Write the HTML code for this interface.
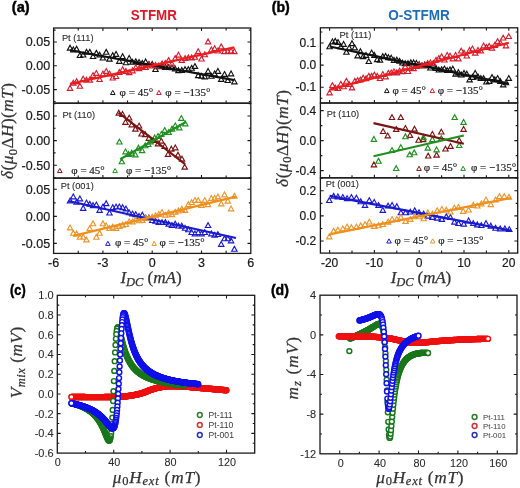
<!DOCTYPE html>
<html><head><meta charset="utf-8"><title>Figure</title>
<style>html,body{margin:0;padding:0;background:#fff;}svg{display:block;will-change:transform;}</style></head>
<body><svg width="520" height="488" viewBox="0 0 520 488">
<defs><clipPath id="ca1"><rect x="53.6" y="28" width="197.2" height="75.2"/></clipPath><clipPath id="ca2"><rect x="53.6" y="103.2" width="197.2" height="74.9"/></clipPath><clipPath id="ca3"><rect x="53.6" y="178.1" width="197.2" height="75.3"/></clipPath><clipPath id="cb1"><rect x="320.4" y="27.8" width="197.3" height="75.2"/></clipPath><clipPath id="cb2"><rect x="320.4" y="103" width="197.3" height="74.8"/></clipPath><clipPath id="cb3"><rect x="320.4" y="177.8" width="197.3" height="75.3"/></clipPath></defs>
<rect width="520" height="488" fill="#fff"/>
<rect x="53.6" y="28" width="197.2" height="75.2" fill="none" stroke="#1a1a1a" stroke-width="1.3"/>
<path d="M53.6 42h3.3M250.8 42h-3.3M53.6 65.8h3.3M250.8 65.8h-3.3M53.6 89.6h3.3M250.8 89.6h-3.3" stroke="#1a1a1a" stroke-width="1.1" fill="none"/>
<path d="M53.6 101.5h2M250.8 101.5h-2M53.6 77.7h2M250.8 77.7h-2M53.6 53.9h2M250.8 53.9h-2M53.6 30.1h2M250.8 30.1h-2" stroke="#1a1a1a" stroke-width="1.1" fill="none"/>
<path d="M102.9 103.2v-3M102.9 28v3M152.2 103.2v-3M152.2 28v3M201.5 103.2v-3M201.5 28v3" stroke="#1a1a1a" stroke-width="1.1" fill="none"/>
<path d="M78.25 103.2v-2.6M78.25 28v2.6M127.55 103.2v-2.6M127.55 28v2.6M176.85 103.2v-2.6M176.85 28v2.6M226.15 103.2v-2.6M226.15 28v2.6" stroke="#1a1a1a" stroke-width="1.1" fill="none"/>
<text x="50.1" y="46.46" font-family='"Liberation Sans", sans-serif' font-size="12.5" font-weight="normal" font-style="normal" fill="#1a1a1a" text-anchor="end" stroke="#1a1a1a" stroke-width="0.2">0.05</text>
<text x="50.1" y="70.26" font-family='"Liberation Sans", sans-serif' font-size="12.5" font-weight="normal" font-style="normal" fill="#1a1a1a" text-anchor="end" stroke="#1a1a1a" stroke-width="0.2">0.00</text>
<text x="50.1" y="94.06" font-family='"Liberation Sans", sans-serif' font-size="12.5" font-weight="normal" font-style="normal" fill="#1a1a1a" text-anchor="end" stroke="#1a1a1a" stroke-width="0.2">-0.05</text>
<rect x="53.6" y="103.2" width="197.2" height="74.9" fill="none" stroke="#1a1a1a" stroke-width="1.3"/>
<path d="M53.6 116h3.3M250.8 116h-3.3M53.6 140.6h3.3M250.8 140.6h-3.3M53.6 165.2h3.3M250.8 165.2h-3.3" stroke="#1a1a1a" stroke-width="1.1" fill="none"/>
<path d="M53.6 177.5h2M250.8 177.5h-2M53.6 152.9h2M250.8 152.9h-2M53.6 128.3h2M250.8 128.3h-2M53.6 103.7h2M250.8 103.7h-2" stroke="#1a1a1a" stroke-width="1.1" fill="none"/>
<path d="M102.9 178.1v-3M152.2 178.1v-3M201.5 178.1v-3" stroke="#1a1a1a" stroke-width="1.1" fill="none"/>
<path d="M78.25 178.1v-2.6M127.55 178.1v-2.6M176.85 178.1v-2.6M226.15 178.1v-2.6" stroke="#1a1a1a" stroke-width="1.1" fill="none"/>
<text x="50.1" y="120.46" font-family='"Liberation Sans", sans-serif' font-size="12.5" font-weight="normal" font-style="normal" fill="#1a1a1a" text-anchor="end" stroke="#1a1a1a" stroke-width="0.2">0.50</text>
<text x="50.1" y="145.06" font-family='"Liberation Sans", sans-serif' font-size="12.5" font-weight="normal" font-style="normal" fill="#1a1a1a" text-anchor="end" stroke="#1a1a1a" stroke-width="0.2">0.00</text>
<text x="50.1" y="169.66" font-family='"Liberation Sans", sans-serif' font-size="12.5" font-weight="normal" font-style="normal" fill="#1a1a1a" text-anchor="end" stroke="#1a1a1a" stroke-width="0.2">-0.50</text>
<rect x="53.6" y="178.1" width="197.2" height="75.3" fill="none" stroke="#1a1a1a" stroke-width="1.3"/>
<path d="M53.6 189.3h3.3M250.8 189.3h-3.3M53.6 216.35h3.3M250.8 216.35h-3.3M53.6 243.4h3.3M250.8 243.4h-3.3" stroke="#1a1a1a" stroke-width="1.1" fill="none"/>
<path d="M53.6 229.88h2M250.8 229.88h-2M53.6 202.83h2M250.8 202.83h-2" stroke="#1a1a1a" stroke-width="1.1" fill="none"/>
<path d="M102.9 253.4v-3M152.2 253.4v-3M201.5 253.4v-3" stroke="#1a1a1a" stroke-width="1.1" fill="none"/>
<path d="M78.25 253.4v-2.6M127.55 253.4v-2.6M176.85 253.4v-2.6M226.15 253.4v-2.6" stroke="#1a1a1a" stroke-width="1.1" fill="none"/>
<text x="50.1" y="193.76" font-family='"Liberation Sans", sans-serif' font-size="12.5" font-weight="normal" font-style="normal" fill="#1a1a1a" text-anchor="end" stroke="#1a1a1a" stroke-width="0.2">0.05</text>
<text x="50.1" y="220.81" font-family='"Liberation Sans", sans-serif' font-size="12.5" font-weight="normal" font-style="normal" fill="#1a1a1a" text-anchor="end" stroke="#1a1a1a" stroke-width="0.2">0.00</text>
<text x="50.1" y="247.86" font-family='"Liberation Sans", sans-serif' font-size="12.5" font-weight="normal" font-style="normal" fill="#1a1a1a" text-anchor="end" stroke="#1a1a1a" stroke-width="0.2">-0.05</text>
<text x="53.6" y="267.2" font-family='"Liberation Sans", sans-serif' font-size="12.5" font-weight="normal" font-style="normal" fill="#1a1a1a" text-anchor="middle" stroke="#1a1a1a" stroke-width="0.2">-6</text>
<text x="102.9" y="267.2" font-family='"Liberation Sans", sans-serif' font-size="12.5" font-weight="normal" font-style="normal" fill="#1a1a1a" text-anchor="middle" stroke="#1a1a1a" stroke-width="0.2">-3</text>
<text x="152.2" y="267.2" font-family='"Liberation Sans", sans-serif' font-size="12.5" font-weight="normal" font-style="normal" fill="#1a1a1a" text-anchor="middle" stroke="#1a1a1a" stroke-width="0.2">0</text>
<text x="201.5" y="267.2" font-family='"Liberation Sans", sans-serif' font-size="12.5" font-weight="normal" font-style="normal" fill="#1a1a1a" text-anchor="middle" stroke="#1a1a1a" stroke-width="0.2">3</text>
<text x="250.8" y="267.2" font-family='"Liberation Sans", sans-serif' font-size="12.5" font-weight="normal" font-style="normal" fill="#1a1a1a" text-anchor="middle" stroke="#1a1a1a" stroke-width="0.2">6</text>
<rect x="320.4" y="27.8" width="197.3" height="75.2" fill="none" stroke="#1a1a1a" stroke-width="1.3"/>
<path d="M320.4 43h3.3M517.7 43h-3.3M320.4 65.1h3.3M517.7 65.1h-3.3M320.4 87.2h3.3M517.7 87.2h-3.3" stroke="#1a1a1a" stroke-width="1.1" fill="none"/>
<path d="M320.4 98.25h2M517.7 98.25h-2M320.4 76.15h2M517.7 76.15h-2M320.4 54.05h2M517.7 54.05h-2M320.4 31.95h2M517.7 31.95h-2" stroke="#1a1a1a" stroke-width="1.1" fill="none"/>
<path d="M329.6 103v-3M329.6 27.8v3M374.4 103v-3M374.4 27.8v3M419.2 103v-3M419.2 27.8v3M464 103v-3M464 27.8v3M508.8 103v-3M508.8 27.8v3" stroke="#1a1a1a" stroke-width="1.1" fill="none"/>
<path d="M352 103v-2.6M352 27.8v2.6M396.8 103v-2.6M396.8 27.8v2.6M441.6 103v-2.6M441.6 27.8v2.6M486.4 103v-2.6M486.4 27.8v2.6" stroke="#1a1a1a" stroke-width="1.1" fill="none"/>
<text x="316.2" y="47.28" font-family='"Liberation Sans", sans-serif' font-size="12" font-weight="normal" font-style="normal" fill="#1a1a1a" text-anchor="end" stroke="#1a1a1a" stroke-width="0.2">0.1</text>
<text x="316.2" y="69.38" font-family='"Liberation Sans", sans-serif' font-size="12" font-weight="normal" font-style="normal" fill="#1a1a1a" text-anchor="end" stroke="#1a1a1a" stroke-width="0.2">0.0</text>
<text x="316.2" y="91.48" font-family='"Liberation Sans", sans-serif' font-size="12" font-weight="normal" font-style="normal" fill="#1a1a1a" text-anchor="end" stroke="#1a1a1a" stroke-width="0.2">-0.1</text>
<rect x="320.4" y="103" width="197.3" height="74.8" fill="none" stroke="#1a1a1a" stroke-width="1.3"/>
<path d="M320.4 110.6h3.3M517.7 110.6h-3.3M320.4 140.6h3.3M517.7 140.6h-3.3M320.4 170.6h3.3M517.7 170.6h-3.3" stroke="#1a1a1a" stroke-width="1.1" fill="none"/>
<path d="M320.4 155.6h2M517.7 155.6h-2M320.4 125.6h2M517.7 125.6h-2" stroke="#1a1a1a" stroke-width="1.1" fill="none"/>
<path d="M329.6 177.8v-3M374.4 177.8v-3M419.2 177.8v-3M464 177.8v-3M508.8 177.8v-3" stroke="#1a1a1a" stroke-width="1.1" fill="none"/>
<path d="M352 177.8v-2.6M396.8 177.8v-2.6M441.6 177.8v-2.6M486.4 177.8v-2.6" stroke="#1a1a1a" stroke-width="1.1" fill="none"/>
<text x="316.2" y="114.88" font-family='"Liberation Sans", sans-serif' font-size="12" font-weight="normal" font-style="normal" fill="#1a1a1a" text-anchor="end" stroke="#1a1a1a" stroke-width="0.2">0.4</text>
<text x="316.2" y="144.88" font-family='"Liberation Sans", sans-serif' font-size="12" font-weight="normal" font-style="normal" fill="#1a1a1a" text-anchor="end" stroke="#1a1a1a" stroke-width="0.2">0.0</text>
<text x="316.2" y="174.88" font-family='"Liberation Sans", sans-serif' font-size="12" font-weight="normal" font-style="normal" fill="#1a1a1a" text-anchor="end" stroke="#1a1a1a" stroke-width="0.2">-0.4</text>
<rect x="320.4" y="177.8" width="197.3" height="75.3" fill="none" stroke="#1a1a1a" stroke-width="1.3"/>
<path d="M320.4 190.8h3.3M517.7 190.8h-3.3M320.4 215.9h3.3M517.7 215.9h-3.3M320.4 241h3.3M517.7 241h-3.3" stroke="#1a1a1a" stroke-width="1.1" fill="none"/>
<path d="M320.4 228.45h2M517.7 228.45h-2M320.4 203.35h2M517.7 203.35h-2M320.4 178.25h2M517.7 178.25h-2" stroke="#1a1a1a" stroke-width="1.1" fill="none"/>
<path d="M329.6 253.1v-3M374.4 253.1v-3M419.2 253.1v-3M464 253.1v-3M508.8 253.1v-3" stroke="#1a1a1a" stroke-width="1.1" fill="none"/>
<path d="M352 253.1v-2.6M396.8 253.1v-2.6M441.6 253.1v-2.6M486.4 253.1v-2.6" stroke="#1a1a1a" stroke-width="1.1" fill="none"/>
<text x="316.2" y="195.08" font-family='"Liberation Sans", sans-serif' font-size="12" font-weight="normal" font-style="normal" fill="#1a1a1a" text-anchor="end" stroke="#1a1a1a" stroke-width="0.2">0.2</text>
<text x="316.2" y="220.18" font-family='"Liberation Sans", sans-serif' font-size="12" font-weight="normal" font-style="normal" fill="#1a1a1a" text-anchor="end" stroke="#1a1a1a" stroke-width="0.2">0.0</text>
<text x="316.2" y="245.28" font-family='"Liberation Sans", sans-serif' font-size="12" font-weight="normal" font-style="normal" fill="#1a1a1a" text-anchor="end" stroke="#1a1a1a" stroke-width="0.2">-0.2</text>
<text x="329.6" y="266.5" font-family='"Liberation Sans", sans-serif' font-size="12" font-weight="normal" font-style="normal" fill="#1a1a1a" text-anchor="middle" stroke="#1a1a1a" stroke-width="0.2">-20</text>
<text x="374.4" y="266.5" font-family='"Liberation Sans", sans-serif' font-size="12" font-weight="normal" font-style="normal" fill="#1a1a1a" text-anchor="middle" stroke="#1a1a1a" stroke-width="0.2">-10</text>
<text x="419.2" y="266.5" font-family='"Liberation Sans", sans-serif' font-size="12" font-weight="normal" font-style="normal" fill="#1a1a1a" text-anchor="middle" stroke="#1a1a1a" stroke-width="0.2">0</text>
<text x="464" y="266.5" font-family='"Liberation Sans", sans-serif' font-size="12" font-weight="normal" font-style="normal" fill="#1a1a1a" text-anchor="middle" stroke="#1a1a1a" stroke-width="0.2">10</text>
<text x="508.8" y="266.5" font-family='"Liberation Sans", sans-serif' font-size="12" font-weight="normal" font-style="normal" fill="#1a1a1a" text-anchor="middle" stroke="#1a1a1a" stroke-width="0.2">20</text>
<path d="M70.03 45.27L72.71 50.1H67.36ZM73.32 46.97L76 51.8H70.64ZM76.61 46.27L79.28 51.1H73.93ZM79.89 52.67L82.57 57.5H77.22ZM83.18 52.17L85.86 57H80.5ZM86.47 49.37L89.14 54.2H83.79ZM89.75 49.37L92.43 54.2H87.08ZM93.04 53.67L95.72 58.5H90.36ZM96.33 50.37L99 55.2H93.65ZM99.61 52.17L102.29 57H96.94ZM102.9 55.17L105.58 60H100.22ZM106.19 49.37L108.86 54.2H103.51ZM109.47 56.27L112.15 61.1H106.8ZM112.76 52.67L115.44 57.5H110.08ZM116.05 51.47L118.72 56.3H113.37ZM119.33 58.47L122.01 63.3H116.66ZM122.62 53.77L125.3 58.6H119.94ZM125.91 59.93L128.58 64.76H123.23ZM129.19 55.47L131.87 60.3H126.52ZM132.48 59.34L135.16 64.17H129.8ZM135.77 58.85L138.44 63.68H133.09ZM139.05 59.57L141.73 64.4H136.38ZM142.34 60.43L145.02 65.26H139.66ZM145.63 59.04L148.3 63.87H142.95ZM148.91 61.6L151.59 66.43H146.24ZM152.2 61.5L154.88 66.33H149.52ZM155.49 66.7L158.16 71.53H152.81ZM158.77 63.89L161.45 68.72H156.1ZM162.06 63.85L164.74 68.68H159.38ZM165.35 64.53L168.02 69.36H162.67ZM168.63 64.7L171.31 69.53H165.96ZM171.92 64.87L174.6 69.7H169.24ZM175.21 66.19L177.88 71.02H172.53ZM178.49 67.75L181.17 72.58H175.82ZM181.78 67.55L184.46 72.38H179.1ZM185.07 66.67L187.74 71.5H182.39ZM188.35 66.67L191.03 71.5H185.68ZM191.64 65.37L194.32 70.2H188.96ZM194.93 63.57L197.6 68.4H192.25ZM198.21 72.77L200.89 77.6H195.54ZM201.5 73.37L204.18 78.2H198.82ZM204.79 73.97L207.46 78.8H202.11ZM208.07 68.47L210.75 73.3H205.4ZM211.36 73.37L214.04 78.2H208.68ZM214.65 70.97L217.32 75.8H211.97ZM217.93 68.47L220.61 73.3H215.26ZM221.22 76.47L223.9 81.3H218.54ZM224.51 71.57L227.18 76.4H221.83ZM227.79 77.67L230.47 82.5H225.12ZM231.08 70.97L233.76 75.8H228.4ZM234.37 78.97L237.04 83.8H231.69Z" fill="none" stroke="#111" stroke-width="1.15" stroke-linejoin="miter" clip-path="url(#ca1)"/>
<path d="M70.03 85.47L72.71 90.3H67.36ZM73.32 80.27L76 85.1H70.64ZM76.61 78.77L79.28 83.6H73.93ZM79.89 83.37L82.57 88.2H77.22ZM83.18 76.17L85.86 81H80.5ZM86.47 77.27L89.14 82.1H83.79ZM89.75 77.27L92.43 82.1H87.08ZM93.04 72.57L95.72 77.4H90.36ZM96.33 70.57L99 75.4H93.65ZM99.61 76.67L102.29 81.5H96.94ZM102.9 71.07L105.58 75.9H100.22ZM106.19 68.57L108.86 73.4H103.51ZM109.47 71.07L112.15 75.9H106.8ZM112.76 75.17L115.44 80H110.08ZM116.05 73.67L118.72 78.5H113.37ZM119.33 69.49L122.01 74.32H116.66ZM122.62 66.87L125.3 71.7H119.94ZM125.91 68.55L128.58 73.38H123.23ZM129.19 69.84L131.87 74.67H126.52ZM132.48 68.01L135.16 72.84H129.8ZM135.77 64.75L138.44 69.58H133.09ZM139.05 65.82L141.73 70.65H136.38ZM142.34 64.41L145.02 69.24H139.66ZM145.63 64.53L148.3 69.36H142.95ZM148.91 61.86L151.59 66.69H146.24ZM152.2 63.17L154.88 68H149.52ZM155.49 62.43L158.16 67.26H152.81ZM158.77 63.18L161.45 68.01H156.1ZM162.06 61.06L164.74 65.89H159.38ZM165.35 60.54L168.02 65.37H162.67ZM168.63 57.61L171.31 62.44H165.96ZM171.92 61L174.6 65.83H169.24ZM175.21 55.68L177.88 60.51H172.53ZM178.49 52.27L181.17 57.1H175.82ZM181.78 57.54L184.46 62.37H179.1ZM185.07 55.57L187.74 60.4H182.39ZM188.35 54.97L191.03 59.8H185.68ZM191.64 54.97L194.32 59.8H188.96ZM194.93 54.37L197.6 59.2H192.25ZM198.21 48.77L200.89 53.6H195.54ZM201.5 56.17L204.18 61H198.82ZM204.79 51.87L207.46 56.7H202.11ZM208.07 38.97L210.75 43.8H205.4ZM211.36 46.97L214.04 51.8H208.68ZM214.65 45.77L217.32 50.6H211.97ZM217.93 48.17L220.61 53H215.26ZM221.22 43.87L223.9 48.7H218.54ZM224.51 48.77L227.18 53.6H221.83ZM227.79 48.77L230.47 53.6H225.12ZM231.08 48.17L233.76 53H228.4ZM234.37 48.77L237.04 53.6H231.69Z" fill="none" stroke="#cc2030" stroke-width="1.15" stroke-linejoin="miter" clip-path="url(#ca1)"/>
<line x1="70.03" y1="50.28" x2="234.37" y2="80.08" stroke="#111" stroke-width="2.2" clip-path="url(#ca1)"/>
<line x1="70.03" y1="83.89" x2="234.37" y2="47.38" stroke="#ee1c1c" stroke-width="2.2" clip-path="url(#ca1)"/>
<path d="M118.8 110.27L121.48 115.1H116.12ZM122.5 111.47L125.18 116.3H119.82ZM125.5 119.47L128.18 124.3H122.82ZM129.2 115.17L131.88 120H126.52ZM131.7 121.97L134.38 126.8H129.02ZM135.4 126.27L138.08 131.1H132.72ZM139.1 123.17L141.78 128H136.42ZM141.5 131.17L144.18 136H138.82ZM145.2 131.77L147.88 136.6H142.52ZM148.9 135.47L151.58 140.3H146.22ZM153.3 137.57L155.98 142.4H150.62ZM158 140.97L160.68 145.8H155.32ZM161.3 138.27L163.98 143.1H158.62ZM164.7 143.57L167.38 148.4H162.02ZM168 151.57L170.68 156.4H165.32ZM171.3 146.27L173.98 151.1H168.62ZM175.3 144.97L177.98 149.8H172.62ZM178 152.27L180.68 157.1H175.32ZM182 156.27L184.68 161.1H179.32ZM184.7 164.27L187.38 169.1H182.02Z" fill="none" stroke="#7a1414" stroke-width="1.15" stroke-linejoin="miter" clip-path="url(#ca2)"/>
<path d="M119.4 139.17L122.08 144H116.72ZM121.8 158.87L124.48 163.7H119.12ZM125.5 148.97L128.18 153.8H122.82ZM128.6 151.47L131.28 156.3H125.92ZM131.7 150.27L134.38 155.1H129.02ZM135.4 152.07L138.08 156.9H132.72ZM138.4 145.27L141.08 150.1H135.72ZM142.1 147.77L144.78 152.6H139.42ZM145.2 142.87L147.88 147.7H142.52ZM148.3 141.67L150.98 146.5H145.62ZM150.7 138.97L153.38 143.8H148.02ZM154.7 134.97L157.38 139.8H152.02ZM158 133.57L160.68 138.4H155.32ZM161.3 131.57L163.98 136.4H158.62ZM164.7 127.57L167.38 132.4H162.02ZM168.7 129.57L171.38 134.4H166.02ZM172 126.27L174.68 131.1H169.32ZM175.3 122.97L177.98 127.8H172.62ZM179.3 124.97L181.98 129.8H176.62ZM181.3 115.57L183.98 120.4H178.62ZM185.3 120.97L187.98 125.8H182.62Z" fill="none" stroke="#1f8f1f" stroke-width="1.15" stroke-linejoin="miter" clip-path="url(#ca2)"/>
<line x1="118.51" y1="112.56" x2="185.07" y2="164.22" stroke="#7a1414" stroke-width="2.2" clip-path="url(#ca2)"/>
<line x1="120.16" y1="159.2" x2="185.89" y2="122" stroke="#1f8f1f" stroke-width="2.2" clip-path="url(#ca2)"/>
<path d="M70.03 198.07L72.71 202.9H67.36ZM73.32 193.97L76 198.8H70.64ZM76.61 199.37L79.28 204.2H73.93ZM79.89 195.97L82.57 200.8H77.22ZM83.18 205.47L85.86 210.3H80.5ZM86.47 200.07L89.14 204.9H83.79ZM89.75 201.37L92.43 206.2H87.08ZM93.04 202.77L95.72 207.6H90.36ZM96.33 202.07L99 206.9H93.65ZM99.61 207.47L102.29 212.3H96.94ZM102.9 204.07L105.58 208.9H100.22ZM106.19 200.77L108.86 205.6H103.51ZM109.47 210.17L112.15 215H106.8ZM112.76 204.77L115.44 209.6H110.08ZM116.05 204.07L118.72 208.9H113.37ZM119.33 204.07L122.01 208.9H116.66ZM122.62 204.77L125.3 209.6H119.94ZM125.91 206.07L128.58 210.9H123.23ZM129.19 209.94L131.87 214.77H126.52ZM132.48 211.07L135.16 215.9H129.8ZM135.77 211.77L138.44 216.6H133.09ZM139.05 213.5L141.73 218.33H136.38ZM142.34 212.27L145.02 217.1H139.66ZM145.63 215.12L148.3 219.95H142.95ZM148.91 215.07L151.59 219.9H146.24ZM152.2 217.65L154.88 222.48H149.52ZM155.49 218.44L158.16 223.27H152.81ZM158.77 219.6L161.45 224.43H156.1ZM162.06 219.7L164.74 224.53H159.38ZM165.35 219.61L168.02 224.44H162.67ZM168.63 221.25L171.31 226.08H165.96ZM171.92 222.62L174.6 227.45H169.24ZM175.21 221.18L177.88 226.01H172.53ZM178.49 223.17L181.17 228H175.82ZM181.78 223.25L184.46 228.08H179.1ZM185.07 225.45L187.74 230.28H182.39ZM188.35 226.87L191.03 231.7H185.68ZM191.64 229.67L194.32 234.5H188.96ZM194.93 230.97L197.6 235.8H192.25ZM198.21 229.67L200.89 234.5H195.54ZM201.5 230.97L204.18 235.8H198.82ZM204.79 229.67L207.46 234.5H202.11ZM208.07 222.67L210.75 227.5H205.4ZM211.36 230.97L214.04 235.8H208.68ZM214.65 232.37L217.32 237.2H211.97ZM217.93 231.67L220.61 236.5H215.26ZM221.22 241.47L223.9 246.3H218.54ZM224.51 235.87L227.18 240.7H221.83ZM227.79 235.87L230.47 240.7H225.12ZM231.08 237.97L233.76 242.8H228.4ZM234.37 246.37L237.04 251.2H231.69Z" fill="none" stroke="#1a1acc" stroke-width="1.15" stroke-linejoin="miter" clip-path="url(#ca3)"/>
<path d="M70.03 224.97L72.71 229.8H67.36ZM73.32 230.37L76 235.2H70.64ZM76.61 230.97L79.28 235.8H73.93ZM79.89 234.37L82.57 239.2H77.22ZM83.18 234.37L85.86 239.2H80.5ZM86.47 237.07L89.14 241.9H83.79ZM89.75 225.67L92.43 230.5H87.08ZM93.04 220.87L95.72 225.7H90.36ZM96.33 234.37L99 239.2H93.65ZM99.61 230.37L102.29 235.2H96.94ZM102.9 220.87L105.58 225.7H100.22ZM106.19 222.97L108.86 227.8H103.51ZM109.47 225.67L112.15 230.5H106.8ZM112.76 224.27L115.44 229.1H110.08ZM116.05 225.67L118.72 230.5H113.37ZM119.33 223.57L122.01 228.4H116.66ZM122.62 222.27L125.3 227.1H119.94ZM125.91 221.57L128.58 226.4H123.23ZM129.19 218.82L131.87 223.65H126.52ZM132.48 219.08L135.16 223.91H129.8ZM135.77 216.38L138.44 221.21H133.09ZM139.05 217.9L141.73 222.73H136.38ZM142.34 217.6L145.02 222.43H139.66ZM145.63 215.21L148.3 220.04H142.95ZM148.91 215.3L151.59 220.13H146.24ZM152.2 214.33L154.88 219.16H149.52ZM155.49 212.89L158.16 217.72H152.81ZM158.77 211.63L161.45 216.46H156.1ZM162.06 209.67L164.74 214.5H159.38ZM165.35 212.32L168.02 217.15H162.67ZM168.63 210.07L171.31 214.9H165.96ZM171.92 211.85L174.6 216.68H169.24ZM175.21 209.36L177.88 214.19H172.53ZM178.49 208.02L181.17 212.85H175.82ZM181.78 206.29L184.46 211.12H179.1ZM185.07 207.55L187.74 212.38H182.39ZM188.35 201.77L191.03 206.6H185.68ZM191.64 199.67L194.32 204.5H188.96ZM194.93 197.57L197.6 202.4H192.25ZM198.21 197.57L200.89 202.4H195.54ZM201.5 202.47L204.18 207.3H198.82ZM204.79 197.57L207.46 202.4H202.11ZM208.07 201.77L210.75 206.6H205.4ZM211.36 195.47L214.04 200.3H208.68ZM214.65 195.47L217.32 200.3H211.97ZM217.93 194.07L220.61 198.9H215.26ZM221.22 201.07L223.9 205.9H218.54ZM224.51 191.97L227.18 196.8H221.83ZM227.79 198.27L230.47 203.1H225.12ZM231.08 205.97L233.76 210.8H228.4ZM234.37 193.37L237.04 198.2H231.69Z" fill="none" stroke="#e8962e" stroke-width="1.15" stroke-linejoin="miter" clip-path="url(#ca3)"/>
<line x1="68.39" y1="200.99" x2="236.01" y2="237.99" stroke="#1a1acc" stroke-width="2.2" clip-path="url(#ca3)"/>
<line x1="73.32" y1="235.83" x2="236.01" y2="196.6" stroke="#f0901c" stroke-width="2.2" clip-path="url(#ca3)"/>
<path d="M329.6 43.87L332.28 48.7H326.92ZM332.4 38.97L335.08 43.8H329.72ZM335.2 38.37L337.88 43.2H332.52ZM338 39.57L340.68 44.4H335.32ZM340.8 43.87L343.48 48.7H338.12ZM343.6 41.47L346.28 46.3H340.92ZM346.4 49.37L349.08 54.2H343.72ZM349.2 45.07L351.88 49.9H346.52ZM352 40.77L354.68 45.6H349.32ZM354.8 45.07L357.48 49.9H352.12ZM357.6 53.07L360.28 57.9H354.92ZM360.4 48.77L363.08 53.6H357.72ZM363.2 53.77L365.88 58.6H360.52ZM366 52.47L368.68 57.3H363.32ZM368.8 58.67L371.48 63.5H366.12ZM371.6 50.07L374.28 54.9H368.92ZM374.4 52.47L377.08 57.3H371.72ZM377.2 56.77L379.88 61.6H374.52ZM380 57.37L382.68 62.2H377.32ZM382.8 53.77L385.48 58.6H380.12ZM385.6 53.55L388.28 58.38H382.92ZM388.4 54.74L391.08 59.57H385.72ZM391.2 55.24L393.88 60.07H388.52ZM394 57.5L396.68 62.33H391.32ZM396.8 57.27L399.48 62.1H394.12ZM399.6 58.45L402.28 63.28H396.92ZM402.4 60.19L405.08 65.02H399.72ZM405.2 60.8L407.88 65.63H402.52ZM408 60.77L410.68 65.6H405.32ZM410.8 59.88L413.48 64.71H408.12ZM413.6 59.98L416.28 64.81H410.92ZM416.4 60.47L419.08 65.3H413.72ZM419.2 61.81L421.88 66.64H416.52ZM422 62.87L424.68 67.7H419.32ZM424.8 61.98L427.48 66.81H422.12ZM427.6 62.31L430.28 67.14H424.92ZM430.4 65.2L433.08 70.03H427.72ZM433.2 62.34L435.88 67.17H430.52ZM436 65.6L438.68 70.43H433.32ZM438.8 67.15L441.48 71.98H436.12ZM441.6 66.87L444.28 71.7H438.92ZM444.4 66.07L447.08 70.9H441.72ZM447.2 67.67L449.88 72.5H444.52ZM450 67.04L452.68 71.87H447.32ZM452.8 66.17L455.48 71H450.12ZM455.6 71.27L458.28 76.1H452.92ZM458.4 69.77L461.08 74.6H455.72ZM461.2 71.97L463.88 76.8H458.52ZM464 70.54L466.68 75.37H461.32ZM466.8 71.27L469.48 76.1H464.12ZM469.6 76.97L472.28 81.8H466.92ZM472.4 74.56L475.08 79.39H469.72ZM475.2 70.47L477.88 75.3H472.52ZM478 74.07L480.68 78.9H475.32ZM480.8 75.57L483.48 80.4H478.12ZM483.6 75.66L486.28 80.49H480.92ZM486.4 79.17L489.08 84H483.72ZM489.2 78.47L491.88 83.3H486.52ZM492 74.64L494.68 79.47H489.32ZM494.8 76.97L497.48 81.8H492.12ZM497.6 75.57L500.28 80.4H494.92ZM500.4 78.71L503.08 83.54H497.72ZM503.2 82.07L505.88 86.9H500.52ZM506 79.87L508.68 84.7H503.32ZM508.8 75.57L511.48 80.4H506.12Z" fill="none" stroke="#111" stroke-width="1.15" stroke-linejoin="miter" clip-path="url(#cb1)"/>
<path d="M329.6 89.97L332.28 94.8H326.92ZM332.4 82.67L335.08 87.5H329.72ZM335.2 85.07L337.88 89.9H332.52ZM338 85.67L340.68 90.5H335.32ZM340.8 81.37L343.48 86.2H338.12ZM343.6 83.87L346.28 88.7H340.92ZM346.4 78.37L349.08 83.2H343.72ZM349.2 81.66L351.88 86.49H346.52ZM352 85.07L354.68 89.9H349.32ZM354.8 78.37L357.48 83.2H352.12ZM357.6 77.67L360.28 82.5H354.92ZM360.4 77.07L363.08 81.9H357.72ZM363.2 75.27L365.88 80.1H360.52ZM366 75.87L368.68 80.7H363.32ZM368.8 73.37L371.48 78.2H366.12ZM371.6 73.37L374.28 78.2H368.92ZM374.4 72.17L377.08 77H371.72ZM377.2 73.37L379.88 78.2H374.52ZM380 75.67L382.68 80.5H377.32ZM382.8 71.57L385.48 76.4H380.12ZM385.6 73.98L388.28 78.81H382.92ZM388.4 70.46L391.08 75.29H385.72ZM391.2 70.07L393.88 74.9H388.52ZM394 68.96L396.68 73.79H391.32ZM396.8 69.98L399.48 74.81H394.12ZM399.6 68.24L402.28 73.07H396.92ZM402.4 68.79L405.08 73.62H399.72ZM405.2 63.9L407.88 68.73H402.52ZM408 68.62L410.68 73.45H405.32ZM410.8 65.23L413.48 70.06H408.12ZM413.6 65.73L416.28 70.56H410.92ZM416.4 63.69L419.08 68.52H413.72ZM419.2 62.56L421.88 67.39H416.52ZM422 63.17L424.68 68H419.32ZM424.8 63.01L427.48 67.84H422.12ZM427.6 60.63L430.28 65.46H424.92ZM430.4 59.97L433.08 64.8H427.72ZM433.2 60.58L435.88 65.41H430.52ZM436 57.35L438.68 62.18H433.32ZM438.8 55.58L441.48 60.41H436.12ZM441.6 53.87L444.28 58.7H438.92ZM444.4 57.16L447.08 61.99H441.72ZM447.2 52.47L449.88 57.3H444.52ZM450 53.17L452.68 58H447.32ZM452.8 56.07L455.48 60.9H450.12ZM455.6 52.47L458.28 57.3H452.92ZM458.4 56.07L461.08 60.9H455.72ZM461.2 48.17L463.88 53H458.52ZM464 50.29L466.68 55.12H461.32ZM466.8 53.17L469.48 58H464.12ZM469.6 47.47L472.28 52.3H466.92ZM472.4 46.08L475.08 50.91H469.72ZM475.2 50.27L477.88 55.1H472.52ZM478 47.47L480.68 52.3H475.32ZM480.8 48.17L483.48 53H478.12ZM483.6 43.07L486.28 47.9H480.92ZM486.4 44.57L489.08 49.4H483.72ZM489.2 43.43L491.88 48.26H486.52ZM492 45.27L494.68 50.1H489.32ZM494.8 42.5L497.48 47.33H492.12ZM497.6 38.77L500.28 43.6H494.92ZM500.4 40.17L503.08 45H497.72ZM503.2 35.17L505.88 40H500.52ZM506 43.07L508.68 47.9H503.32ZM508.8 33.67L511.48 38.5H506.12Z" fill="none" stroke="#cc2030" stroke-width="1.15" stroke-linejoin="miter" clip-path="url(#cb1)"/>
<line x1="329.6" y1="46.54" x2="508.8" y2="83.88" stroke="#111" stroke-width="2.2" clip-path="url(#cb1)"/>
<line x1="329.6" y1="89.63" x2="508.8" y2="42.78" stroke="#ee1c1c" stroke-width="2.2" clip-path="url(#cb1)"/>
<path d="M392 114.67L394.68 119.5H389.32ZM400.8 114.67L403.48 119.5H398.12ZM383.1 128.67L385.78 133.5H380.42ZM387.7 133.07L390.38 137.9H385.02ZM396.2 126.57L398.88 131.4H393.52ZM405.4 125.57L408.08 130.4H402.72ZM410 132.57L412.68 137.4H407.32ZM414.5 126.27L417.18 131.1H411.82ZM373.9 161.97L376.58 166.8H371.22ZM418.6 137.37L421.28 142.2H415.92ZM423.2 136.77L425.88 141.6H420.52ZM432.4 131.47L435.08 136.3H429.72ZM441.3 129.17L443.98 134H438.62ZM428.2 153.17L430.88 158H425.52ZM436.6 152.27L439.28 157.1H433.92ZM445.5 146.17L448.18 151H442.82ZM450.5 143.57L453.18 148.4H447.82ZM463.6 126.47L466.28 131.3H460.92ZM459.2 137.77L461.88 142.6H456.52Z" fill="none" stroke="#7a1414" stroke-width="1.15" stroke-linejoin="miter" clip-path="url(#cb2)"/>
<path d="M373.9 136.47L376.58 141.3H371.22ZM378.5 158.37L381.18 163.2H375.82ZM392 147.57L394.68 152.4H389.32ZM400.8 144.67L403.48 149.5H398.12ZM405.4 133.87L408.08 138.7H402.72ZM396.2 165.67L398.88 170.5H393.52ZM409.7 151.87L412.38 156.7H407.02ZM414.2 149.87L416.88 154.7H411.52ZM454.7 114.67L457.38 119.5H452.02ZM463.6 119.47L466.28 124.3H460.92ZM432.4 136.77L435.08 141.6H429.72ZM441.3 135.67L443.98 140.5H438.62ZM427.8 145.27L430.48 150.1H425.12ZM436.6 146.97L439.28 151.8H433.92ZM459.2 142.67L461.88 147.5H456.52ZM423.5 134.77L426.18 139.6H420.82Z" fill="none" stroke="#1f8f1f" stroke-width="1.15" stroke-linejoin="miter" clip-path="url(#cb2)"/>
<line x1="373.5" y1="123.1" x2="463.8" y2="143.7" stroke="#7a1414" stroke-width="2.2" clip-path="url(#cb2)"/>
<line x1="373.5" y1="156.3" x2="463.8" y2="135.5" stroke="#1f8f1f" stroke-width="2.2" clip-path="url(#cb2)"/>
<path d="M329.3 197.67L331.98 202.5H326.62ZM333.6 193.37L336.28 198.2H330.92ZM337.9 193.97L340.58 198.8H335.22ZM342.8 194.57L345.48 199.4H340.12ZM347.1 195.77L349.78 200.6H344.42ZM351.4 194.57L354.08 199.4H348.72ZM356.4 195.17L359.08 200H353.72ZM360.7 198.87L363.38 203.7H358.02ZM365 202.57L367.68 207.4H362.32ZM369.3 197.67L371.98 202.5H366.62ZM374.2 199.47L376.88 204.3H371.52ZM378.5 202.57L381.18 207.4H375.82ZM382.8 207.47L385.48 212.3H380.12ZM388.1 203.17L390.78 208H385.42ZM392.1 202.47L394.78 207.3H389.42ZM396.8 203.77L399.48 208.6H394.12ZM400.9 209.87L403.58 214.7H398.22ZM405.6 209.87L408.28 214.7H402.92ZM410.3 209.17L412.98 214H407.62ZM414.7 207.87L417.38 212.7H412.02ZM419 209.87L421.68 214.7H416.32ZM423.7 211.17L426.38 216H421.02ZM427.8 213.27L430.48 218.1H425.12ZM432.5 214.57L435.18 219.4H429.82ZM437.2 215.27L439.88 220.1H434.52ZM441.9 216.57L444.58 221.4H439.22ZM446.3 213.87L448.98 218.7H443.62ZM450.4 214.57L453.08 219.4H447.72ZM454.4 219.27L457.08 224.1H451.72ZM458.5 220.67L461.18 225.5H455.82ZM463.8 221.27L466.48 226.1H461.12ZM468.6 217.97L471.28 222.8H465.92ZM473.3 220.67L475.98 225.5H470.62ZM477.3 221.97L479.98 226.8H474.62ZM481.3 222.67L483.98 227.5H478.62ZM486 220.67L488.68 225.5H483.32ZM490.8 223.27L493.48 228.1H488.12ZM495.5 225.37L498.18 230.2H492.82ZM500.2 225.97L502.88 230.8H497.52ZM504.9 225.97L507.58 230.8H502.22ZM509.3 226.67L511.98 231.5H506.62Z" fill="none" stroke="#1a1acc" stroke-width="1.15" stroke-linejoin="miter" clip-path="url(#cb3)"/>
<path d="M329.3 233.97L331.98 238.8H326.62ZM333.6 228.37L336.28 233.2H330.92ZM337.9 227.17L340.58 232H335.22ZM342.8 225.97L345.48 230.8H340.12ZM347.1 224.07L349.78 228.9H344.42ZM351.4 224.67L354.08 229.5H348.72ZM356.4 224.07L359.08 228.9H353.72ZM360.7 222.87L363.38 227.7H358.02ZM365 221.67L367.68 226.5H362.32ZM369.3 219.17L371.98 224H366.62ZM374.2 223.47L376.88 228.3H371.52ZM378.5 222.87L381.18 227.7H375.82ZM382.8 221.67L385.48 226.5H380.12ZM388.1 219.27L390.78 224.1H385.42ZM392.1 216.57L394.78 221.4H389.42ZM396.8 216.57L399.48 221.4H394.12ZM400.9 214.57L403.58 219.4H398.22ZM405.6 218.57L408.28 223.4H402.92ZM410.3 216.57L412.98 221.4H407.62ZM414.7 213.87L417.38 218.7H412.02ZM419 213.87L421.68 218.7H416.32ZM423.7 215.87L426.38 220.7H421.02ZM427.8 209.87L430.48 214.7H425.12ZM432.5 211.17L435.18 216H429.82ZM437.2 207.87L439.88 212.7H434.52ZM441.9 206.47L444.58 211.3H439.22ZM446.3 207.17L448.98 212H443.62ZM450.4 209.17L453.08 214H447.72ZM454.4 205.17L457.08 210H451.72ZM458.5 204.47L461.18 209.3H455.82ZM463.2 208.47L465.88 213.3H460.52ZM468.6 207.17L471.28 212H465.92ZM473.3 202.47L475.98 207.3H470.62ZM477.3 203.17L479.98 208H474.62ZM481.3 201.07L483.98 205.9H478.62ZM486 197.07L488.68 201.9H483.32ZM490.8 201.77L493.48 206.6H488.12ZM495.5 197.07L498.18 201.9H492.82ZM499.5 193.67L502.18 198.5H496.82ZM504.2 193.67L506.88 198.5H501.52ZM508.9 194.37L511.58 199.2H506.22Z" fill="none" stroke="#e8962e" stroke-width="1.15" stroke-linejoin="miter" clip-path="url(#cb3)"/>
<line x1="329.6" y1="195.95" x2="511.04" y2="230.58" stroke="#1a1acc" stroke-width="2.2" clip-path="url(#cb3)"/>
<line x1="329.6" y1="234.35" x2="511.04" y2="197.95" stroke="#f0901c" stroke-width="2.2" clip-path="url(#cb3)"/>
<text x="61.9" y="40.6" font-family='"Liberation Sans", sans-serif' font-size="9.3" font-weight="normal" font-style="normal" fill="#2a2a2a" text-anchor="start" stroke="#2a2a2a" stroke-width="0.1">Pt (111)</text>
<text x="62.6" y="118.3" font-family='"Liberation Sans", sans-serif' font-size="9.3" font-weight="normal" font-style="normal" fill="#2a2a2a" text-anchor="start" stroke="#2a2a2a" stroke-width="0.1">Pt (110)</text>
<text x="60.7" y="189.4" font-family='"Liberation Sans", sans-serif' font-size="9.3" font-weight="normal" font-style="normal" fill="#2a2a2a" text-anchor="start" stroke="#2a2a2a" stroke-width="0.1">Pt (001)</text>
<text x="339.6" y="37.8" font-family='"Liberation Sans", sans-serif' font-size="9.3" font-weight="normal" font-style="normal" fill="#2a2a2a" text-anchor="start" stroke="#2a2a2a" stroke-width="0.1">Pt (111)</text>
<text x="326.8" y="117.3" font-family='"Liberation Sans", sans-serif' font-size="9.3" font-weight="normal" font-style="normal" fill="#2a2a2a" text-anchor="start" stroke="#2a2a2a" stroke-width="0.1">Pt (110)</text>
<text x="325.8" y="186.7" font-family='"Liberation Sans", sans-serif' font-size="9.3" font-weight="normal" font-style="normal" fill="#2a2a2a" text-anchor="start" stroke="#2a2a2a" stroke-width="0.1">Pt (001)</text>
<path d="M112.8 90.36L115.09 94.5H110.5Z" fill="none" stroke="#111" stroke-width="1.0" stroke-linejoin="miter"/>
<text x="119.6" y="95.5" font-family='"Liberation Serif", serif' font-size="11" font-weight="normal" font-style="normal" fill="#222" text-anchor="start" stroke="#1a1a1a" stroke-width="0.2">φ = 45°</text>
<path d="M158.9 90.36L161.19 94.5H156.61Z" fill="none" stroke="#cc2030" stroke-width="1.0" stroke-linejoin="miter"/>
<text x="165.3" y="95.5" font-family='"Liberation Serif", serif' font-size="11" font-weight="normal" font-style="normal" fill="#222" text-anchor="start" stroke="#1a1a1a" stroke-width="0.2">φ = −135°</text>
<path d="M59.8 168.46L62.09 172.6H57.5Z" fill="none" stroke="#7a1414" stroke-width="1.0" stroke-linejoin="miter"/>
<text x="71.3" y="173.6" font-family='"Liberation Serif", serif' font-size="11" font-weight="normal" font-style="normal" fill="#222" text-anchor="start" stroke="#1a1a1a" stroke-width="0.2">φ = 45°</text>
<path d="M115.1 168.46L117.39 172.6H112.8Z" fill="none" stroke="#1f8f1f" stroke-width="1.0" stroke-linejoin="miter"/>
<text x="126" y="173.6" font-family='"Liberation Serif", serif' font-size="11" font-weight="normal" font-style="normal" fill="#222" text-anchor="start" stroke="#1a1a1a" stroke-width="0.2">φ = −135°</text>
<path d="M107.9 241.26L110.2 245.4H105.61Z" fill="none" stroke="#1a1acc" stroke-width="1.0" stroke-linejoin="miter"/>
<text x="115" y="246.4" font-family='"Liberation Serif", serif' font-size="11" font-weight="normal" font-style="normal" fill="#222" text-anchor="start" stroke="#1a1a1a" stroke-width="0.2">φ = 45°</text>
<path d="M154.2 241.26L156.49 245.4H151.91Z" fill="none" stroke="#e8962e" stroke-width="1.0" stroke-linejoin="miter"/>
<text x="159.5" y="246.4" font-family='"Liberation Serif", serif' font-size="11" font-weight="normal" font-style="normal" fill="#222" text-anchor="start" stroke="#1a1a1a" stroke-width="0.2">φ = −135°</text>
<path d="M386.8 88.46L389.1 92.6H384.5Z" fill="none" stroke="#111" stroke-width="1.0" stroke-linejoin="miter"/>
<text x="392.5" y="93.6" font-family='"Liberation Serif", serif' font-size="11" font-weight="normal" font-style="normal" fill="#222" text-anchor="start" stroke="#1a1a1a" stroke-width="0.2">φ = 45°</text>
<path d="M432.3 88.46L434.6 92.6H430Z" fill="none" stroke="#cc2030" stroke-width="1.0" stroke-linejoin="miter"/>
<text x="437.7" y="93.6" font-family='"Liberation Serif", serif' font-size="11" font-weight="normal" font-style="normal" fill="#222" text-anchor="start" stroke="#1a1a1a" stroke-width="0.2">φ = −135°</text>
<path d="M419 166.26L421.3 170.4H416.7Z" fill="none" stroke="#7a1414" stroke-width="1.0" stroke-linejoin="miter"/>
<text x="423.8" y="171.4" font-family='"Liberation Serif", serif' font-size="11" font-weight="normal" font-style="normal" fill="#222" text-anchor="start" stroke="#1a1a1a" stroke-width="0.2">φ = 45°</text>
<path d="M463.1 166.26L465.4 170.4H460.81Z" fill="none" stroke="#1f8f1f" stroke-width="1.0" stroke-linejoin="miter"/>
<text x="470.9" y="171.4" font-family='"Liberation Serif", serif' font-size="11" font-weight="normal" font-style="normal" fill="#222" text-anchor="start" stroke="#1a1a1a" stroke-width="0.2">φ = −135°</text>
<path d="M389 238.86L391.3 243H386.7Z" fill="none" stroke="#1a1acc" stroke-width="1.0" stroke-linejoin="miter"/>
<text x="394.6" y="244" font-family='"Liberation Serif", serif' font-size="11" font-weight="normal" font-style="normal" fill="#222" text-anchor="start" stroke="#1a1a1a" stroke-width="0.2">φ = 45°</text>
<path d="M432.7 238.86L435 243H430.4Z" fill="none" stroke="#e8962e" stroke-width="1.0" stroke-linejoin="miter"/>
<text x="438.2" y="244" font-family='"Liberation Serif", serif' font-size="11" font-weight="normal" font-style="normal" fill="#222" text-anchor="start" stroke="#1a1a1a" stroke-width="0.2">φ = −135°</text>
<rect x="57.3" y="295.3" width="197.4" height="157.8" fill="none" stroke="#1a1a1a" stroke-width="1.3"/>
<path d="M113.7 453.1v-3.3M113.7 295.3v3.3M170.1 453.1v-3.3M170.1 295.3v3.3M226.5 453.1v-3.3M226.5 295.3v3.3" stroke="#1a1a1a" stroke-width="1.1" fill="none"/>
<path d="M85.5 453.1v-2M85.5 295.3v2M141.9 453.1v-2M141.9 295.3v2M198.3 453.1v-2M198.3 295.3v2" stroke="#1a1a1a" stroke-width="1.1" fill="none"/>
<path d="M57.3 433.38h3.3M254.7 433.38h-3.3M57.3 413.65h3.3M254.7 413.65h-3.3M57.3 393.93h3.3M254.7 393.93h-3.3M57.3 374.2h3.3M254.7 374.2h-3.3M57.3 354.48h3.3M254.7 354.48h-3.3M57.3 334.75h3.3M254.7 334.75h-3.3M57.3 315.02h3.3M254.7 315.02h-3.3" stroke="#1a1a1a" stroke-width="1.1" fill="none"/>
<path d="M57.3 443.24h2M254.7 443.24h-2M57.3 423.51h2M254.7 423.51h-2M57.3 403.79h2M254.7 403.79h-2M57.3 384.06h2M254.7 384.06h-2M57.3 364.34h2M254.7 364.34h-2M57.3 344.61h2M254.7 344.61h-2M57.3 324.89h2M254.7 324.89h-2M57.3 305.16h2M254.7 305.16h-2" stroke="#1a1a1a" stroke-width="1.1" fill="none"/>
<text x="53.6" y="299.23" font-family='"Liberation Sans", sans-serif' font-size="11" font-weight="normal" font-style="normal" fill="#2a2a2a" text-anchor="end" stroke="#2a2a2a" stroke-width="0.08">1.0</text>
<text x="53.6" y="318.95" font-family='"Liberation Sans", sans-serif' font-size="11" font-weight="normal" font-style="normal" fill="#2a2a2a" text-anchor="end" stroke="#2a2a2a" stroke-width="0.08">0.8</text>
<text x="53.6" y="338.68" font-family='"Liberation Sans", sans-serif' font-size="11" font-weight="normal" font-style="normal" fill="#2a2a2a" text-anchor="end" stroke="#2a2a2a" stroke-width="0.08">0.6</text>
<text x="53.6" y="358.4" font-family='"Liberation Sans", sans-serif' font-size="11" font-weight="normal" font-style="normal" fill="#2a2a2a" text-anchor="end" stroke="#2a2a2a" stroke-width="0.08">0.4</text>
<text x="53.6" y="378.13" font-family='"Liberation Sans", sans-serif' font-size="11" font-weight="normal" font-style="normal" fill="#2a2a2a" text-anchor="end" stroke="#2a2a2a" stroke-width="0.08">0.2</text>
<text x="53.6" y="397.85" font-family='"Liberation Sans", sans-serif' font-size="11" font-weight="normal" font-style="normal" fill="#2a2a2a" text-anchor="end" stroke="#2a2a2a" stroke-width="0.08">0.0</text>
<text x="53.6" y="417.58" font-family='"Liberation Sans", sans-serif' font-size="11" font-weight="normal" font-style="normal" fill="#2a2a2a" text-anchor="end" stroke="#2a2a2a" stroke-width="0.08">-0.2</text>
<text x="53.6" y="437.3" font-family='"Liberation Sans", sans-serif' font-size="11" font-weight="normal" font-style="normal" fill="#2a2a2a" text-anchor="end" stroke="#2a2a2a" stroke-width="0.08">-0.4</text>
<text x="53.6" y="457.03" font-family='"Liberation Sans", sans-serif' font-size="11" font-weight="normal" font-style="normal" fill="#2a2a2a" text-anchor="end" stroke="#2a2a2a" stroke-width="0.08">-0.6</text>
<text x="57.8" y="466.3" font-family='"Liberation Sans", sans-serif' font-size="10.8" font-weight="normal" font-style="normal" fill="#2a2a2a" text-anchor="middle" stroke="#2a2a2a" stroke-width="0.08">0</text>
<text x="114.2" y="466.3" font-family='"Liberation Sans", sans-serif' font-size="10.8" font-weight="normal" font-style="normal" fill="#2a2a2a" text-anchor="middle" stroke="#2a2a2a" stroke-width="0.08">40</text>
<text x="170.6" y="466.3" font-family='"Liberation Sans", sans-serif' font-size="10.8" font-weight="normal" font-style="normal" fill="#2a2a2a" text-anchor="middle" stroke="#2a2a2a" stroke-width="0.08">80</text>
<text x="227" y="466.3" font-family='"Liberation Sans", sans-serif' font-size="10.8" font-weight="normal" font-style="normal" fill="#2a2a2a" text-anchor="middle" stroke="#2a2a2a" stroke-width="0.08">120</text>
<g fill="#fff" stroke="#ee1111" stroke-width="1.45"><circle cx="226.5" cy="390.28" r="2.45"/><circle cx="226.15" cy="390.24" r="2.45"/><circle cx="225.79" cy="390.21" r="2.45"/><circle cx="225.44" cy="390.18" r="2.45"/><circle cx="225.09" cy="390.15" r="2.45"/><circle cx="224.74" cy="390.11" r="2.45"/><circle cx="224.38" cy="390.08" r="2.45"/><circle cx="224.03" cy="390.05" r="2.45"/><circle cx="223.68" cy="390.02" r="2.45"/><circle cx="223.33" cy="389.99" r="2.45"/><circle cx="222.97" cy="389.95" r="2.45"/><circle cx="222.62" cy="389.92" r="2.45"/><circle cx="222.27" cy="389.89" r="2.45"/><circle cx="221.92" cy="389.86" r="2.45"/><circle cx="221.56" cy="389.83" r="2.45"/><circle cx="221.21" cy="389.79" r="2.45"/><circle cx="220.86" cy="389.76" r="2.45"/><circle cx="220.51" cy="389.73" r="2.45"/><circle cx="220.15" cy="389.7" r="2.45"/><circle cx="219.8" cy="389.67" r="2.45"/><circle cx="219.45" cy="389.64" r="2.45"/><circle cx="219.1" cy="389.6" r="2.45"/><circle cx="218.74" cy="389.57" r="2.45"/><circle cx="218.39" cy="389.54" r="2.45"/><circle cx="218.04" cy="389.51" r="2.45"/><circle cx="217.69" cy="389.48" r="2.45"/><circle cx="217.33" cy="389.45" r="2.45"/><circle cx="216.98" cy="389.42" r="2.45"/><circle cx="216.63" cy="389.39" r="2.45"/><circle cx="216.28" cy="389.35" r="2.45"/><circle cx="215.92" cy="389.32" r="2.45"/><circle cx="215.57" cy="389.29" r="2.45"/><circle cx="215.22" cy="389.26" r="2.45"/><circle cx="214.87" cy="389.23" r="2.45"/><circle cx="214.51" cy="389.2" r="2.45"/><circle cx="214.16" cy="389.17" r="2.45"/><circle cx="213.81" cy="389.14" r="2.45"/><circle cx="213.46" cy="389.11" r="2.45"/><circle cx="213.1" cy="389.07" r="2.45"/><circle cx="212.75" cy="389.04" r="2.45"/><circle cx="212.4" cy="389.01" r="2.45"/><circle cx="212.05" cy="388.98" r="2.45"/><circle cx="211.69" cy="388.95" r="2.45"/><circle cx="211.34" cy="388.92" r="2.45"/><circle cx="210.99" cy="388.89" r="2.45"/><circle cx="210.64" cy="388.86" r="2.45"/><circle cx="210.28" cy="388.83" r="2.45"/><circle cx="209.93" cy="388.8" r="2.45"/><circle cx="209.58" cy="388.77" r="2.45"/><circle cx="209.23" cy="388.74" r="2.45"/><circle cx="208.87" cy="388.71" r="2.45"/><circle cx="208.52" cy="388.68" r="2.45"/><circle cx="208.17" cy="388.65" r="2.45"/><circle cx="207.82" cy="388.62" r="2.45"/><circle cx="207.46" cy="388.59" r="2.45"/><circle cx="207.11" cy="388.56" r="2.45"/><circle cx="206.76" cy="388.52" r="2.45"/><circle cx="206.41" cy="388.49" r="2.45"/><circle cx="206.05" cy="388.46" r="2.45"/><circle cx="205.7" cy="388.43" r="2.45"/><circle cx="205.35" cy="388.4" r="2.45"/><circle cx="205" cy="388.37" r="2.45"/><circle cx="204.64" cy="388.34" r="2.45"/><circle cx="204.29" cy="388.31" r="2.45"/><circle cx="203.94" cy="388.28" r="2.45"/><circle cx="203.59" cy="388.25" r="2.45"/><circle cx="203.23" cy="388.22" r="2.45"/><circle cx="202.88" cy="388.19" r="2.45"/><circle cx="202.53" cy="388.17" r="2.45"/><circle cx="202.18" cy="388.14" r="2.45"/><circle cx="201.82" cy="388.11" r="2.45"/><circle cx="201.47" cy="388.08" r="2.45"/><circle cx="201.12" cy="388.05" r="2.45"/><circle cx="200.77" cy="388.02" r="2.45"/><circle cx="200.41" cy="387.99" r="2.45"/><circle cx="200.06" cy="387.96" r="2.45"/><circle cx="199.71" cy="387.93" r="2.45"/><circle cx="199.36" cy="387.9" r="2.45"/><circle cx="199" cy="387.87" r="2.45"/><circle cx="198.65" cy="387.84" r="2.45"/><circle cx="198.3" cy="387.81" r="2.45"/><circle cx="197.95" cy="387.78" r="2.45"/><circle cx="197.59" cy="387.75" r="2.45"/><circle cx="197.24" cy="387.72" r="2.45"/><circle cx="196.89" cy="387.69" r="2.45"/><circle cx="196.54" cy="387.66" r="2.45"/><circle cx="196.19" cy="387.62" r="2.45"/><circle cx="195.83" cy="387.59" r="2.45"/><circle cx="195.48" cy="387.56" r="2.45"/><circle cx="195.13" cy="387.52" r="2.45"/><circle cx="194.77" cy="387.49" r="2.45"/><circle cx="194.42" cy="387.45" r="2.45"/><circle cx="194.07" cy="387.42" r="2.45"/><circle cx="193.72" cy="387.38" r="2.45"/><circle cx="193.37" cy="387.35" r="2.45"/><circle cx="193.01" cy="387.31" r="2.45"/><circle cx="192.66" cy="387.28" r="2.45"/><circle cx="192.31" cy="387.24" r="2.45"/><circle cx="191.95" cy="387.21" r="2.45"/><circle cx="191.6" cy="387.17" r="2.45"/><circle cx="191.25" cy="387.14" r="2.45"/><circle cx="190.9" cy="387.1" r="2.45"/><circle cx="190.55" cy="387.07" r="2.45"/><circle cx="190.19" cy="387.03" r="2.45"/><circle cx="189.84" cy="387" r="2.45"/><circle cx="189.49" cy="386.96" r="2.45"/><circle cx="189.13" cy="386.93" r="2.45"/><circle cx="188.78" cy="386.89" r="2.45"/><circle cx="188.43" cy="386.86" r="2.45"/><circle cx="188.08" cy="386.83" r="2.45"/><circle cx="187.72" cy="386.8" r="2.45"/><circle cx="187.37" cy="386.76" r="2.45"/><circle cx="187.02" cy="386.73" r="2.45"/><circle cx="186.67" cy="386.7" r="2.45"/><circle cx="186.31" cy="386.67" r="2.45"/><circle cx="185.96" cy="386.64" r="2.45"/><circle cx="185.61" cy="386.61" r="2.45"/><circle cx="185.26" cy="386.58" r="2.45"/><circle cx="184.9" cy="386.56" r="2.45"/><circle cx="184.55" cy="386.53" r="2.45"/><circle cx="184.2" cy="386.5" r="2.45"/><circle cx="183.85" cy="386.48" r="2.45"/><circle cx="183.5" cy="386.45" r="2.45"/><circle cx="183.14" cy="386.43" r="2.45"/><circle cx="182.79" cy="386.41" r="2.45"/><circle cx="182.44" cy="386.39" r="2.45"/><circle cx="182.08" cy="386.37" r="2.45"/><circle cx="181.73" cy="386.35" r="2.45"/><circle cx="181.38" cy="386.33" r="2.45"/><circle cx="181.03" cy="386.31" r="2.45"/><circle cx="180.67" cy="386.3" r="2.45"/><circle cx="180.32" cy="386.28" r="2.45"/><circle cx="179.97" cy="386.27" r="2.45"/><circle cx="179.62" cy="386.26" r="2.45"/><circle cx="179.26" cy="386.25" r="2.45"/><circle cx="178.91" cy="386.24" r="2.45"/><circle cx="178.56" cy="386.23" r="2.45"/><circle cx="178.21" cy="386.23" r="2.45"/><circle cx="177.85" cy="386.22" r="2.45"/><circle cx="177.5" cy="386.21" r="2.45"/><circle cx="177.15" cy="386.21" r="2.45"/><circle cx="176.8" cy="386.2" r="2.45"/><circle cx="176.44" cy="386.19" r="2.45"/><circle cx="176.09" cy="386.19" r="2.45"/><circle cx="175.74" cy="386.18" r="2.45"/><circle cx="175.39" cy="386.18" r="2.45"/><circle cx="175.03" cy="386.17" r="2.45"/><circle cx="174.68" cy="386.17" r="2.45"/><circle cx="174.33" cy="386.16" r="2.45"/><circle cx="173.98" cy="386.16" r="2.45"/><circle cx="173.62" cy="386.15" r="2.45"/><circle cx="173.27" cy="386.15" r="2.45"/><circle cx="172.92" cy="386.15" r="2.45"/><circle cx="172.57" cy="386.14" r="2.45"/><circle cx="172.21" cy="386.14" r="2.45"/><circle cx="171.86" cy="386.14" r="2.45"/><circle cx="171.51" cy="386.14" r="2.45"/><circle cx="171.16" cy="386.14" r="2.45"/><circle cx="170.81" cy="386.13" r="2.45"/><circle cx="170.45" cy="386.13" r="2.45"/><circle cx="170.1" cy="386.13" r="2.45"/><circle cx="169.75" cy="386.14" r="2.45"/><circle cx="169.39" cy="386.14" r="2.45"/><circle cx="169.04" cy="386.15" r="2.45"/><circle cx="168.69" cy="386.17" r="2.45"/><circle cx="168.34" cy="386.19" r="2.45"/><circle cx="167.98" cy="386.21" r="2.45"/><circle cx="167.63" cy="386.23" r="2.45"/><circle cx="167.28" cy="386.26" r="2.45"/><circle cx="166.93" cy="386.29" r="2.45"/><circle cx="166.57" cy="386.33" r="2.45"/><circle cx="166.22" cy="386.36" r="2.45"/><circle cx="165.87" cy="386.4" r="2.45"/><circle cx="165.52" cy="386.45" r="2.45"/><circle cx="165.16" cy="386.49" r="2.45"/><circle cx="164.81" cy="386.54" r="2.45"/><circle cx="164.46" cy="386.59" r="2.45"/><circle cx="164.11" cy="386.64" r="2.45"/><circle cx="163.75" cy="386.69" r="2.45"/><circle cx="163.4" cy="386.74" r="2.45"/><circle cx="163.05" cy="386.8" r="2.45"/><circle cx="162.7" cy="386.85" r="2.45"/><circle cx="162.34" cy="386.91" r="2.45"/><circle cx="161.99" cy="386.97" r="2.45"/><circle cx="161.64" cy="387.03" r="2.45"/><circle cx="161.29" cy="387.09" r="2.45"/><circle cx="160.94" cy="387.15" r="2.45"/><circle cx="160.58" cy="387.21" r="2.45"/><circle cx="160.23" cy="387.27" r="2.45"/><circle cx="159.88" cy="387.33" r="2.45"/><circle cx="159.52" cy="387.39" r="2.45"/><circle cx="159.17" cy="387.45" r="2.45"/><circle cx="158.82" cy="387.52" r="2.45"/><circle cx="158.47" cy="387.59" r="2.45"/><circle cx="158.11" cy="387.66" r="2.45"/><circle cx="157.76" cy="387.74" r="2.45"/><circle cx="157.41" cy="387.82" r="2.45"/><circle cx="157.06" cy="387.91" r="2.45"/><circle cx="156.7" cy="388" r="2.45"/><circle cx="156.35" cy="388.09" r="2.45"/><circle cx="156" cy="388.19" r="2.45"/><circle cx="155.65" cy="388.29" r="2.45"/><circle cx="155.29" cy="388.39" r="2.45"/><circle cx="154.94" cy="388.49" r="2.45"/><circle cx="154.59" cy="388.6" r="2.45"/><circle cx="154.24" cy="388.71" r="2.45"/><circle cx="153.88" cy="388.82" r="2.45"/><circle cx="153.53" cy="388.93" r="2.45"/><circle cx="153.18" cy="389.05" r="2.45"/><circle cx="152.83" cy="389.16" r="2.45"/><circle cx="152.47" cy="389.28" r="2.45"/><circle cx="152.12" cy="389.39" r="2.45"/><circle cx="151.77" cy="389.51" r="2.45"/><circle cx="151.42" cy="389.63" r="2.45"/><circle cx="151.06" cy="389.75" r="2.45"/><circle cx="150.71" cy="389.86" r="2.45"/><circle cx="150.36" cy="389.98" r="2.45"/><circle cx="150.01" cy="390.1" r="2.45"/><circle cx="149.65" cy="390.23" r="2.45"/><circle cx="149.3" cy="390.36" r="2.45"/><circle cx="148.95" cy="390.5" r="2.45"/><circle cx="148.6" cy="390.64" r="2.45"/><circle cx="148.25" cy="390.78" r="2.45"/><circle cx="147.89" cy="390.93" r="2.45"/><circle cx="147.54" cy="391.08" r="2.45"/><circle cx="147.19" cy="391.23" r="2.45"/><circle cx="146.83" cy="391.38" r="2.45"/><circle cx="146.48" cy="391.53" r="2.45"/><circle cx="146.13" cy="391.68" r="2.45"/><circle cx="145.78" cy="391.82" r="2.45"/><circle cx="145.42" cy="391.97" r="2.45"/><circle cx="145.07" cy="392.11" r="2.45"/><circle cx="144.72" cy="392.25" r="2.45"/><circle cx="144.37" cy="392.38" r="2.45"/><circle cx="144.01" cy="392.51" r="2.45"/><circle cx="143.66" cy="392.63" r="2.45"/><circle cx="143.31" cy="392.74" r="2.45"/><circle cx="142.96" cy="392.85" r="2.45"/><circle cx="142.6" cy="392.96" r="2.45"/><circle cx="142.25" cy="393.07" r="2.45"/><circle cx="141.9" cy="393.17" r="2.45"/><circle cx="141.55" cy="393.28" r="2.45"/><circle cx="141.19" cy="393.38" r="2.45"/><circle cx="140.84" cy="393.48" r="2.45"/><circle cx="140.49" cy="393.58" r="2.45"/><circle cx="140.14" cy="393.68" r="2.45"/><circle cx="139.78" cy="393.78" r="2.45"/><circle cx="139.43" cy="393.87" r="2.45"/><circle cx="139.08" cy="393.97" r="2.45"/><circle cx="138.73" cy="394.06" r="2.45"/><circle cx="138.38" cy="394.15" r="2.45"/><circle cx="138.02" cy="394.24" r="2.45"/><circle cx="137.67" cy="394.32" r="2.45"/><circle cx="137.32" cy="394.4" r="2.45"/><circle cx="136.96" cy="394.48" r="2.45"/><circle cx="136.61" cy="394.56" r="2.45"/><circle cx="136.26" cy="394.64" r="2.45"/><circle cx="135.91" cy="394.71" r="2.45"/><circle cx="135.56" cy="394.78" r="2.45"/><circle cx="135.2" cy="394.85" r="2.45"/><circle cx="134.85" cy="394.91" r="2.45"/><circle cx="134.5" cy="394.97" r="2.45"/><circle cx="134.14" cy="395.04" r="2.45"/><circle cx="133.79" cy="395.1" r="2.45"/><circle cx="133.44" cy="395.16" r="2.45"/><circle cx="133.09" cy="395.22" r="2.45"/><circle cx="132.74" cy="395.29" r="2.45"/><circle cx="132.38" cy="395.35" r="2.45"/><circle cx="132.03" cy="395.41" r="2.45"/><circle cx="131.68" cy="395.47" r="2.45"/><circle cx="131.32" cy="395.53" r="2.45"/><circle cx="130.97" cy="395.59" r="2.45"/><circle cx="130.62" cy="395.64" r="2.45"/><circle cx="130.27" cy="395.7" r="2.45"/><circle cx="129.91" cy="395.76" r="2.45"/><circle cx="129.56" cy="395.81" r="2.45"/><circle cx="129.21" cy="395.86" r="2.45"/><circle cx="128.86" cy="395.92" r="2.45"/><circle cx="128.5" cy="395.97" r="2.45"/><circle cx="128.15" cy="396.02" r="2.45"/><circle cx="127.8" cy="396.07" r="2.45"/><circle cx="127.45" cy="396.11" r="2.45"/><circle cx="127.09" cy="396.16" r="2.45"/><circle cx="126.74" cy="396.2" r="2.45"/><circle cx="126.39" cy="396.25" r="2.45"/><circle cx="126.04" cy="396.29" r="2.45"/><circle cx="125.68" cy="396.32" r="2.45"/><circle cx="125.33" cy="396.36" r="2.45"/><circle cx="124.98" cy="396.39" r="2.45"/><circle cx="124.63" cy="396.43" r="2.45"/><circle cx="124.27" cy="396.46" r="2.45"/><circle cx="123.92" cy="396.48" r="2.45"/><circle cx="123.57" cy="396.51" r="2.45"/><circle cx="123.22" cy="396.53" r="2.45"/><circle cx="122.86" cy="396.55" r="2.45"/><circle cx="122.51" cy="396.57" r="2.45"/><circle cx="122.16" cy="396.59" r="2.45"/><circle cx="121.81" cy="396.6" r="2.45"/><circle cx="121.45" cy="396.62" r="2.45"/><circle cx="121.1" cy="396.63" r="2.45"/><circle cx="120.75" cy="396.64" r="2.45"/><circle cx="120.4" cy="396.66" r="2.45"/><circle cx="120.04" cy="396.67" r="2.45"/><circle cx="119.69" cy="396.68" r="2.45"/><circle cx="119.34" cy="396.7" r="2.45"/><circle cx="118.99" cy="396.71" r="2.45"/><circle cx="118.63" cy="396.72" r="2.45"/><circle cx="118.28" cy="396.73" r="2.45"/><circle cx="117.93" cy="396.75" r="2.45"/><circle cx="117.58" cy="396.76" r="2.45"/><circle cx="117.22" cy="396.77" r="2.45"/><circle cx="116.87" cy="396.78" r="2.45"/><circle cx="116.52" cy="396.79" r="2.45"/><circle cx="116.17" cy="396.8" r="2.45"/><circle cx="115.81" cy="396.81" r="2.45"/><circle cx="115.46" cy="396.83" r="2.45"/><circle cx="115.11" cy="396.84" r="2.45"/><circle cx="114.76" cy="396.85" r="2.45"/><circle cx="114.4" cy="396.86" r="2.45"/><circle cx="114.05" cy="396.87" r="2.45"/><circle cx="113.7" cy="396.88" r="2.45"/><circle cx="113.35" cy="396.89" r="2.45"/><circle cx="112.99" cy="396.9" r="2.45"/><circle cx="112.64" cy="396.9" r="2.45"/><circle cx="112.29" cy="396.91" r="2.45"/><circle cx="111.94" cy="396.92" r="2.45"/><circle cx="111.58" cy="396.93" r="2.45"/><circle cx="111.23" cy="396.94" r="2.45"/><circle cx="110.88" cy="396.95" r="2.45"/><circle cx="110.53" cy="396.96" r="2.45"/><circle cx="110.17" cy="396.96" r="2.45"/><circle cx="109.82" cy="396.97" r="2.45"/><circle cx="109.47" cy="396.98" r="2.45"/><circle cx="109.12" cy="396.99" r="2.45"/><circle cx="108.76" cy="396.99" r="2.45"/><circle cx="108.41" cy="397" r="2.45"/><circle cx="108.06" cy="397" r="2.45"/><circle cx="107.71" cy="397.01" r="2.45"/><circle cx="107.35" cy="397.02" r="2.45"/><circle cx="107" cy="397.02" r="2.45"/><circle cx="106.65" cy="397.03" r="2.45"/><circle cx="106.3" cy="397.03" r="2.45"/><circle cx="105.94" cy="397.04" r="2.45"/><circle cx="105.59" cy="397.04" r="2.45"/><circle cx="105.24" cy="397.05" r="2.45"/><circle cx="104.89" cy="397.05" r="2.45"/><circle cx="104.53" cy="397.05" r="2.45"/><circle cx="104.18" cy="397.06" r="2.45"/><circle cx="103.83" cy="397.06" r="2.45"/><circle cx="103.48" cy="397.06" r="2.45"/><circle cx="103.12" cy="397.07" r="2.45"/><circle cx="102.77" cy="397.07" r="2.45"/><circle cx="102.42" cy="397.07" r="2.45"/><circle cx="102.07" cy="397.07" r="2.45"/><circle cx="101.72" cy="397.08" r="2.45"/><circle cx="101.36" cy="397.08" r="2.45"/><circle cx="101.01" cy="397.08" r="2.45"/><circle cx="100.66" cy="397.08" r="2.45"/><circle cx="100.3" cy="397.08" r="2.45"/><circle cx="99.95" cy="397.08" r="2.45"/><circle cx="99.6" cy="397.08" r="2.45"/><circle cx="99.25" cy="397.08" r="2.45"/><circle cx="98.89" cy="397.08" r="2.45"/><circle cx="98.54" cy="397.08" r="2.45"/><circle cx="98.19" cy="397.08" r="2.45"/><circle cx="97.84" cy="397.08" r="2.45"/><circle cx="97.48" cy="397.08" r="2.45"/><circle cx="97.13" cy="397.08" r="2.45"/><circle cx="96.78" cy="397.08" r="2.45"/><circle cx="96.43" cy="397.08" r="2.45"/><circle cx="96.07" cy="397.08" r="2.45"/><circle cx="95.72" cy="397.08" r="2.45"/><circle cx="95.37" cy="397.08" r="2.45"/><circle cx="95.02" cy="397.08" r="2.45"/><circle cx="94.66" cy="397.08" r="2.45"/><circle cx="94.31" cy="397.08" r="2.45"/><circle cx="93.96" cy="397.08" r="2.45"/><circle cx="93.61" cy="397.08" r="2.45"/><circle cx="93.25" cy="397.08" r="2.45"/><circle cx="92.9" cy="397.08" r="2.45"/><circle cx="92.55" cy="397.08" r="2.45"/><circle cx="92.2" cy="397.08" r="2.45"/><circle cx="91.84" cy="397.08" r="2.45"/><circle cx="91.49" cy="397.08" r="2.45"/><circle cx="91.14" cy="397.08" r="2.45"/><circle cx="90.79" cy="397.07" r="2.45"/><circle cx="90.44" cy="397.07" r="2.45"/><circle cx="90.08" cy="397.07" r="2.45"/><circle cx="89.73" cy="397.07" r="2.45"/><circle cx="89.38" cy="397.07" r="2.45"/><circle cx="89.02" cy="397.07" r="2.45"/><circle cx="88.67" cy="397.07" r="2.45"/><circle cx="88.32" cy="397.07" r="2.45"/><circle cx="87.97" cy="397.07" r="2.45"/><circle cx="87.61" cy="397.07" r="2.45"/><circle cx="87.26" cy="397.06" r="2.45"/><circle cx="86.91" cy="397.06" r="2.45"/><circle cx="86.56" cy="397.06" r="2.45"/><circle cx="86.2" cy="397.06" r="2.45"/><circle cx="85.85" cy="397.06" r="2.45"/><circle cx="85.5" cy="397.06" r="2.45"/><circle cx="85.15" cy="397.05" r="2.45"/><circle cx="84.79" cy="397.05" r="2.45"/><circle cx="84.44" cy="397.05" r="2.45"/><circle cx="84.09" cy="397.05" r="2.45"/><circle cx="83.74" cy="397.05" r="2.45"/><circle cx="83.38" cy="397.04" r="2.45"/><circle cx="83.03" cy="397.04" r="2.45"/><circle cx="82.68" cy="397.04" r="2.45"/><circle cx="82.33" cy="397.04" r="2.45"/><circle cx="81.97" cy="397.03" r="2.45"/><circle cx="81.62" cy="397.03" r="2.45"/><circle cx="81.27" cy="397.03" r="2.45"/><circle cx="80.92" cy="397.02" r="2.45"/><circle cx="80.56" cy="397.02" r="2.45"/><circle cx="80.21" cy="397.02" r="2.45"/><circle cx="79.86" cy="397.01" r="2.45"/><circle cx="79.51" cy="397.01" r="2.45"/><circle cx="79.16" cy="397.01" r="2.45"/><circle cx="78.8" cy="397" r="2.45"/><circle cx="78.45" cy="397" r="2.45"/><circle cx="78.1" cy="396.99" r="2.45"/><circle cx="77.74" cy="396.99" r="2.45"/><circle cx="77.39" cy="396.98" r="2.45"/><circle cx="77.04" cy="396.98" r="2.45"/><circle cx="76.69" cy="396.98" r="2.45"/><circle cx="76.33" cy="396.97" r="2.45"/><circle cx="75.98" cy="396.97" r="2.45"/><circle cx="75.63" cy="396.96" r="2.45"/><circle cx="75.28" cy="396.95" r="2.45"/><circle cx="74.92" cy="396.95" r="2.45"/><circle cx="74.57" cy="396.94" r="2.45"/><circle cx="74.22" cy="396.94" r="2.45"/><circle cx="73.87" cy="396.93" r="2.45"/><circle cx="73.52" cy="396.92" r="2.45"/><circle cx="73.16" cy="396.92" r="2.45"/><circle cx="72.81" cy="396.91" r="2.45"/><circle cx="72.46" cy="396.91" r="2.45"/><circle cx="72.1" cy="396.9" r="2.45"/><circle cx="71.75" cy="396.89" r="2.45"/><circle cx="71.4" cy="396.88" r="2.45"/></g>
<g fill="#fff" stroke="#1a761a" stroke-width="1.45"><circle cx="184.2" cy="385.31" r="2.45"/><circle cx="183.81" cy="385.27" r="2.45"/><circle cx="183.41" cy="385.23" r="2.45"/><circle cx="183.02" cy="385.19" r="2.45"/><circle cx="182.62" cy="385.15" r="2.45"/><circle cx="182.23" cy="385.11" r="2.45"/><circle cx="181.83" cy="385.06" r="2.45"/><circle cx="181.44" cy="385.02" r="2.45"/><circle cx="181.04" cy="384.97" r="2.45"/><circle cx="180.65" cy="384.93" r="2.45"/><circle cx="180.25" cy="384.88" r="2.45"/><circle cx="179.86" cy="384.84" r="2.45"/><circle cx="179.46" cy="384.79" r="2.45"/><circle cx="179.07" cy="384.75" r="2.45"/><circle cx="178.67" cy="384.7" r="2.45"/><circle cx="178.28" cy="384.65" r="2.45"/><circle cx="177.88" cy="384.6" r="2.45"/><circle cx="177.49" cy="384.55" r="2.45"/><circle cx="177.09" cy="384.5" r="2.45"/><circle cx="176.7" cy="384.45" r="2.45"/><circle cx="176.3" cy="384.4" r="2.45"/><circle cx="175.91" cy="384.35" r="2.45"/><circle cx="175.51" cy="384.3" r="2.45"/><circle cx="175.12" cy="384.25" r="2.45"/><circle cx="174.72" cy="384.19" r="2.45"/><circle cx="174.33" cy="384.14" r="2.45"/><circle cx="173.94" cy="384.08" r="2.45"/><circle cx="173.54" cy="384.03" r="2.45"/><circle cx="173.15" cy="383.97" r="2.45"/><circle cx="172.75" cy="383.91" r="2.45"/><circle cx="172.36" cy="383.86" r="2.45"/><circle cx="171.96" cy="383.8" r="2.45"/><circle cx="171.57" cy="383.74" r="2.45"/><circle cx="171.17" cy="383.68" r="2.45"/><circle cx="170.78" cy="383.62" r="2.45"/><circle cx="170.38" cy="383.56" r="2.45"/><circle cx="169.99" cy="383.49" r="2.45"/><circle cx="169.59" cy="383.43" r="2.45"/><circle cx="169.2" cy="383.37" r="2.45"/><circle cx="168.8" cy="383.3" r="2.45"/><circle cx="168.41" cy="383.23" r="2.45"/><circle cx="168.01" cy="383.17" r="2.45"/><circle cx="167.62" cy="383.1" r="2.45"/><circle cx="167.22" cy="383.03" r="2.45"/><circle cx="166.83" cy="382.96" r="2.45"/><circle cx="166.43" cy="382.89" r="2.45"/><circle cx="166.04" cy="382.82" r="2.45"/><circle cx="165.64" cy="382.74" r="2.45"/><circle cx="165.25" cy="382.67" r="2.45"/><circle cx="164.85" cy="382.59" r="2.45"/><circle cx="164.46" cy="382.52" r="2.45"/><circle cx="164.07" cy="382.44" r="2.45"/><circle cx="163.67" cy="382.36" r="2.45"/><circle cx="163.28" cy="382.28" r="2.45"/><circle cx="162.88" cy="382.2" r="2.45"/><circle cx="162.49" cy="382.12" r="2.45"/><circle cx="162.09" cy="382.03" r="2.45"/><circle cx="161.7" cy="381.95" r="2.45"/><circle cx="161.3" cy="381.86" r="2.45"/><circle cx="160.91" cy="381.77" r="2.45"/><circle cx="160.51" cy="381.68" r="2.45"/><circle cx="160.12" cy="381.59" r="2.45"/><circle cx="159.72" cy="381.5" r="2.45"/><circle cx="159.33" cy="381.4" r="2.45"/><circle cx="158.93" cy="381.31" r="2.45"/><circle cx="158.54" cy="381.21" r="2.45"/><circle cx="158.14" cy="381.11" r="2.45"/><circle cx="157.75" cy="381.01" r="2.45"/><circle cx="157.35" cy="380.9" r="2.45"/><circle cx="156.96" cy="380.8" r="2.45"/><circle cx="156.56" cy="380.69" r="2.45"/><circle cx="156.17" cy="380.58" r="2.45"/><circle cx="155.77" cy="380.47" r="2.45"/><circle cx="155.38" cy="380.36" r="2.45"/><circle cx="154.98" cy="380.25" r="2.45"/><circle cx="154.59" cy="380.13" r="2.45"/><circle cx="154.2" cy="380.01" r="2.45"/><circle cx="153.8" cy="379.89" r="2.45"/><circle cx="153.41" cy="379.76" r="2.45"/><circle cx="153.01" cy="379.64" r="2.45"/><circle cx="152.62" cy="379.51" r="2.45"/><circle cx="152.22" cy="379.38" r="2.45"/><circle cx="151.83" cy="379.24" r="2.45"/><circle cx="151.43" cy="379.11" r="2.45"/><circle cx="151.04" cy="378.97" r="2.45"/><circle cx="150.64" cy="378.82" r="2.45"/><circle cx="150.25" cy="378.68" r="2.45"/><circle cx="149.85" cy="378.53" r="2.45"/><circle cx="149.46" cy="378.38" r="2.45"/><circle cx="149.06" cy="378.22" r="2.45"/><circle cx="148.67" cy="378.06" r="2.45"/><circle cx="148.27" cy="377.9" r="2.45"/><circle cx="147.88" cy="377.73" r="2.45"/><circle cx="147.48" cy="377.56" r="2.45"/><circle cx="147.09" cy="377.39" r="2.45"/><circle cx="146.69" cy="377.21" r="2.45"/><circle cx="146.3" cy="377.03" r="2.45"/><circle cx="145.9" cy="376.84" r="2.45"/><circle cx="145.51" cy="376.65" r="2.45"/><circle cx="145.11" cy="376.46" r="2.45"/><circle cx="144.72" cy="376.26" r="2.45"/><circle cx="144.33" cy="376.05" r="2.45"/><circle cx="143.93" cy="375.84" r="2.45"/><circle cx="143.54" cy="375.63" r="2.45"/><circle cx="143.14" cy="375.41" r="2.45"/><circle cx="142.75" cy="375.18" r="2.45"/><circle cx="142.35" cy="374.94" r="2.45"/><circle cx="141.96" cy="374.71" r="2.45"/><circle cx="141.56" cy="374.46" r="2.45"/><circle cx="141.17" cy="374.21" r="2.45"/><circle cx="140.77" cy="373.95" r="2.45"/><circle cx="140.38" cy="373.68" r="2.45"/><circle cx="139.98" cy="373.4" r="2.45"/><circle cx="139.59" cy="373.12" r="2.45"/><circle cx="139.19" cy="372.83" r="2.45"/><circle cx="138.8" cy="372.53" r="2.45"/><circle cx="138.4" cy="372.22" r="2.45"/><circle cx="138.01" cy="371.9" r="2.45"/><circle cx="137.61" cy="371.58" r="2.45"/><circle cx="137.22" cy="371.24" r="2.45"/><circle cx="136.82" cy="370.89" r="2.45"/><circle cx="136.43" cy="370.53" r="2.45"/><circle cx="136.03" cy="370.15" r="2.45"/><circle cx="135.64" cy="369.77" r="2.45"/><circle cx="135.24" cy="369.37" r="2.45"/><circle cx="134.85" cy="368.96" r="2.45"/><circle cx="134.46" cy="368.53" r="2.45"/><circle cx="134.06" cy="368.09" r="2.45"/><circle cx="133.67" cy="367.63" r="2.45"/><circle cx="133.27" cy="367.16" r="2.45"/><circle cx="132.88" cy="366.67" r="2.45"/><circle cx="132.48" cy="366.16" r="2.45"/><circle cx="132.09" cy="365.63" r="2.45"/><circle cx="131.69" cy="365.08" r="2.45"/><circle cx="131.3" cy="364.51" r="2.45"/><circle cx="130.9" cy="363.91" r="2.45"/><circle cx="130.51" cy="363.29" r="2.45"/><circle cx="130.11" cy="362.65" r="2.45"/><circle cx="129.72" cy="361.98" r="2.45"/><circle cx="129.32" cy="361.28" r="2.45"/><circle cx="128.93" cy="360.55" r="2.45"/><circle cx="128.53" cy="359.79" r="2.45"/><circle cx="128.14" cy="359" r="2.45"/><circle cx="127.74" cy="358.17" r="2.45"/><circle cx="127.35" cy="357.3" r="2.45"/><circle cx="126.95" cy="356.39" r="2.45"/><circle cx="126.56" cy="355.44" r="2.45"/><circle cx="126.16" cy="354.45" r="2.45"/><circle cx="125.77" cy="353.41" r="2.45"/><circle cx="125.37" cy="352.33" r="2.45"/><circle cx="124.98" cy="351.19" r="2.45"/><circle cx="124.59" cy="350" r="2.45"/><circle cx="124.19" cy="348.76" r="2.45"/><circle cx="123.8" cy="347.46" r="2.45"/><circle cx="123.4" cy="346.11" r="2.45"/><circle cx="123.01" cy="344.7" r="2.45"/><circle cx="122.61" cy="343.24" r="2.45"/><circle cx="122.22" cy="341.72" r="2.45"/><circle cx="121.82" cy="340.16" r="2.45"/><circle cx="121.43" cy="338.56" r="2.45"/><circle cx="121.03" cy="336.93" r="2.45"/><circle cx="120.64" cy="335.3" r="2.45"/><circle cx="120.24" cy="333.68" r="2.45"/><circle cx="119.85" cy="332.11" r="2.45"/><circle cx="119.45" cy="330.64" r="2.45"/><circle cx="119.06" cy="329.32" r="2.45"/><circle cx="118.66" cy="328.24" r="2.45"/><circle cx="118.27" cy="327.5" r="2.45"/><circle cx="117.87" cy="327.23" r="2.45"/><circle cx="117.48" cy="327.58" r="2.45"/><circle cx="117.08" cy="328.73" r="2.45"/><circle cx="116.69" cy="330.86" r="2.45"/><circle cx="116.29" cy="334.18" r="2.45"/><circle cx="115.9" cy="338.84" r="2.45"/><circle cx="115.5" cy="344.93" r="2.45"/><circle cx="115.11" cy="352.43" r="2.45"/><circle cx="114.72" cy="361.18" r="2.45"/><circle cx="114.32" cy="370.88" r="2.45"/><circle cx="113.93" cy="381.08" r="2.45"/><circle cx="113.53" cy="391.29" r="2.45"/><circle cx="113.14" cy="401.02" r="2.45"/><circle cx="112.74" cy="409.89" r="2.45"/><circle cx="112.35" cy="417.61" r="2.45"/><circle cx="111.95" cy="424.08" r="2.45"/><circle cx="111.56" cy="429.28" r="2.45"/><circle cx="111.16" cy="433.29" r="2.45"/><circle cx="110.77" cy="436.25" r="2.45"/><circle cx="110.37" cy="438.31" r="2.45"/><circle cx="109.98" cy="439.64" r="2.45"/><circle cx="109.58" cy="440.37" r="2.45"/><circle cx="109.19" cy="440.63" r="2.45"/><circle cx="108.79" cy="440.52" r="2.45"/><circle cx="108.4" cy="440.14" r="2.45"/><circle cx="108" cy="439.56" r="2.45"/><circle cx="107.61" cy="438.82" r="2.45"/><circle cx="107.21" cy="437.98" r="2.45"/><circle cx="106.82" cy="437.07" r="2.45"/><circle cx="106.42" cy="436.12" r="2.45"/><circle cx="106.03" cy="435.13" r="2.45"/><circle cx="105.63" cy="434.14" r="2.45"/><circle cx="105.24" cy="433.15" r="2.45"/><circle cx="104.85" cy="432.17" r="2.45"/><circle cx="104.45" cy="431.21" r="2.45"/><circle cx="104.06" cy="430.27" r="2.45"/><circle cx="103.66" cy="429.35" r="2.45"/><circle cx="103.27" cy="428.46" r="2.45"/><circle cx="102.87" cy="427.59" r="2.45"/><circle cx="102.48" cy="426.75" r="2.45"/><circle cx="102.08" cy="425.95" r="2.45"/><circle cx="101.69" cy="425.16" r="2.45"/><circle cx="101.29" cy="424.41" r="2.45"/><circle cx="100.9" cy="423.68" r="2.45"/><circle cx="100.5" cy="422.98" r="2.45"/><circle cx="100.11" cy="422.3" r="2.45"/><circle cx="99.71" cy="421.65" r="2.45"/><circle cx="99.32" cy="421.02" r="2.45"/><circle cx="98.92" cy="420.41" r="2.45"/><circle cx="98.53" cy="419.83" r="2.45"/><circle cx="98.13" cy="419.27" r="2.45"/><circle cx="97.74" cy="418.72" r="2.45"/><circle cx="97.34" cy="418.2" r="2.45"/><circle cx="96.95" cy="417.69" r="2.45"/><circle cx="96.55" cy="417.2" r="2.45"/><circle cx="96.16" cy="416.73" r="2.45"/><circle cx="95.76" cy="416.27" r="2.45"/><circle cx="95.37" cy="415.83" r="2.45"/><circle cx="94.98" cy="415.4" r="2.45"/><circle cx="94.58" cy="414.99" r="2.45"/><circle cx="94.19" cy="414.59" r="2.45"/><circle cx="93.79" cy="414.2" r="2.45"/><circle cx="93.4" cy="413.83" r="2.45"/><circle cx="93" cy="413.47" r="2.45"/><circle cx="92.61" cy="413.12" r="2.45"/><circle cx="92.21" cy="412.77" r="2.45"/><circle cx="91.82" cy="412.44" r="2.45"/><circle cx="91.42" cy="412.12" r="2.45"/><circle cx="91.03" cy="411.81" r="2.45"/><circle cx="90.63" cy="411.51" r="2.45"/><circle cx="90.24" cy="411.21" r="2.45"/><circle cx="89.84" cy="410.93" r="2.45"/><circle cx="89.45" cy="410.65" r="2.45"/><circle cx="89.05" cy="410.38" r="2.45"/><circle cx="88.66" cy="410.12" r="2.45"/><circle cx="88.26" cy="409.86" r="2.45"/><circle cx="87.87" cy="409.62" r="2.45"/><circle cx="87.47" cy="409.37" r="2.45"/><circle cx="87.08" cy="409.14" r="2.45"/><circle cx="86.68" cy="408.91" r="2.45"/><circle cx="86.29" cy="408.68" r="2.45"/><circle cx="85.89" cy="408.47" r="2.45"/><circle cx="85.5" cy="408.25" r="2.45"/><circle cx="85.11" cy="408.04" r="2.45"/><circle cx="84.71" cy="407.84" r="2.45"/><circle cx="84.32" cy="407.64" r="2.45"/><circle cx="83.92" cy="407.45" r="2.45"/><circle cx="83.53" cy="407.26" r="2.45"/><circle cx="83.13" cy="407.08" r="2.45"/><circle cx="82.74" cy="406.9" r="2.45"/><circle cx="82.34" cy="406.72" r="2.45"/><circle cx="81.95" cy="406.55" r="2.45"/><circle cx="81.55" cy="406.38" r="2.45"/><circle cx="81.16" cy="406.22" r="2.45"/><circle cx="80.76" cy="406.06" r="2.45"/><circle cx="80.37" cy="405.9" r="2.45"/><circle cx="79.97" cy="405.75" r="2.45"/><circle cx="79.58" cy="405.6" r="2.45"/><circle cx="79.18" cy="405.45" r="2.45"/><circle cx="78.79" cy="405.3" r="2.45"/><circle cx="78.39" cy="405.16" r="2.45"/><circle cx="78" cy="405.02" r="2.45"/><circle cx="77.6" cy="404.89" r="2.45"/><circle cx="77.21" cy="404.76" r="2.45"/><circle cx="76.81" cy="404.62" r="2.45"/><circle cx="76.42" cy="404.5" r="2.45"/><circle cx="76.02" cy="404.37" r="2.45"/><circle cx="75.63" cy="404.25" r="2.45"/><circle cx="75.24" cy="404.13" r="2.45"/><circle cx="74.84" cy="404.01" r="2.45"/><circle cx="74.45" cy="403.89" r="2.45"/><circle cx="74.05" cy="403.78" r="2.45"/><circle cx="73.66" cy="403.67" r="2.45"/><circle cx="73.26" cy="403.56" r="2.45"/><circle cx="72.87" cy="403.45" r="2.45"/><circle cx="72.47" cy="403.34" r="2.45"/><circle cx="72.08" cy="403.24" r="2.45"/><circle cx="71.68" cy="403.14" r="2.45"/></g>
<g fill="#fff" stroke="#1010e8" stroke-width="1.45"><circle cx="198.3" cy="384.14" r="2.45"/><circle cx="198.02" cy="384.11" r="2.45"/><circle cx="197.74" cy="384.08" r="2.45"/><circle cx="197.45" cy="384.06" r="2.45"/><circle cx="197.17" cy="384.03" r="2.45"/><circle cx="196.89" cy="384" r="2.45"/><circle cx="196.61" cy="383.98" r="2.45"/><circle cx="196.33" cy="383.95" r="2.45"/><circle cx="196.04" cy="383.92" r="2.45"/><circle cx="195.76" cy="383.89" r="2.45"/><circle cx="195.48" cy="383.87" r="2.45"/><circle cx="195.2" cy="383.84" r="2.45"/><circle cx="194.92" cy="383.81" r="2.45"/><circle cx="194.63" cy="383.78" r="2.45"/><circle cx="194.35" cy="383.75" r="2.45"/><circle cx="194.07" cy="383.72" r="2.45"/><circle cx="193.79" cy="383.7" r="2.45"/><circle cx="193.51" cy="383.67" r="2.45"/><circle cx="193.22" cy="383.64" r="2.45"/><circle cx="192.94" cy="383.61" r="2.45"/><circle cx="192.66" cy="383.58" r="2.45"/><circle cx="192.38" cy="383.55" r="2.45"/><circle cx="192.1" cy="383.51" r="2.45"/><circle cx="191.81" cy="383.48" r="2.45"/><circle cx="191.53" cy="383.45" r="2.45"/><circle cx="191.25" cy="383.42" r="2.45"/><circle cx="190.97" cy="383.39" r="2.45"/><circle cx="190.69" cy="383.36" r="2.45"/><circle cx="190.4" cy="383.32" r="2.45"/><circle cx="190.12" cy="383.29" r="2.45"/><circle cx="189.84" cy="383.26" r="2.45"/><circle cx="189.56" cy="383.23" r="2.45"/><circle cx="189.28" cy="383.19" r="2.45"/><circle cx="188.99" cy="383.16" r="2.45"/><circle cx="188.71" cy="383.12" r="2.45"/><circle cx="188.43" cy="383.09" r="2.45"/><circle cx="188.15" cy="383.06" r="2.45"/><circle cx="187.87" cy="383.02" r="2.45"/><circle cx="187.58" cy="382.99" r="2.45"/><circle cx="187.3" cy="382.95" r="2.45"/><circle cx="187.02" cy="382.91" r="2.45"/><circle cx="186.74" cy="382.88" r="2.45"/><circle cx="186.46" cy="382.84" r="2.45"/><circle cx="186.17" cy="382.8" r="2.45"/><circle cx="185.89" cy="382.77" r="2.45"/><circle cx="185.61" cy="382.73" r="2.45"/><circle cx="185.33" cy="382.69" r="2.45"/><circle cx="185.05" cy="382.65" r="2.45"/><circle cx="184.76" cy="382.61" r="2.45"/><circle cx="184.48" cy="382.58" r="2.45"/><circle cx="184.2" cy="382.54" r="2.45"/><circle cx="183.92" cy="382.5" r="2.45"/><circle cx="183.64" cy="382.46" r="2.45"/><circle cx="183.35" cy="382.42" r="2.45"/><circle cx="183.07" cy="382.37" r="2.45"/><circle cx="182.79" cy="382.33" r="2.45"/><circle cx="182.51" cy="382.29" r="2.45"/><circle cx="182.23" cy="382.25" r="2.45"/><circle cx="181.94" cy="382.21" r="2.45"/><circle cx="181.66" cy="382.16" r="2.45"/><circle cx="181.38" cy="382.12" r="2.45"/><circle cx="181.1" cy="382.08" r="2.45"/><circle cx="180.82" cy="382.03" r="2.45"/><circle cx="180.53" cy="381.99" r="2.45"/><circle cx="180.25" cy="381.94" r="2.45"/><circle cx="179.97" cy="381.9" r="2.45"/><circle cx="179.69" cy="381.85" r="2.45"/><circle cx="179.41" cy="381.81" r="2.45"/><circle cx="179.12" cy="381.76" r="2.45"/><circle cx="178.84" cy="381.71" r="2.45"/><circle cx="178.56" cy="381.66" r="2.45"/><circle cx="178.28" cy="381.62" r="2.45"/><circle cx="178" cy="381.57" r="2.45"/><circle cx="177.71" cy="381.52" r="2.45"/><circle cx="177.43" cy="381.47" r="2.45"/><circle cx="177.15" cy="381.42" r="2.45"/><circle cx="176.87" cy="381.37" r="2.45"/><circle cx="176.59" cy="381.32" r="2.45"/><circle cx="176.3" cy="381.26" r="2.45"/><circle cx="176.02" cy="381.21" r="2.45"/><circle cx="175.74" cy="381.16" r="2.45"/><circle cx="175.46" cy="381.11" r="2.45"/><circle cx="175.18" cy="381.05" r="2.45"/><circle cx="174.89" cy="381" r="2.45"/><circle cx="174.61" cy="380.94" r="2.45"/><circle cx="174.33" cy="380.89" r="2.45"/><circle cx="174.05" cy="380.83" r="2.45"/><circle cx="173.77" cy="380.77" r="2.45"/><circle cx="173.48" cy="380.71" r="2.45"/><circle cx="173.2" cy="380.66" r="2.45"/><circle cx="172.92" cy="380.6" r="2.45"/><circle cx="172.64" cy="380.54" r="2.45"/><circle cx="172.36" cy="380.48" r="2.45"/><circle cx="172.07" cy="380.42" r="2.45"/><circle cx="171.79" cy="380.35" r="2.45"/><circle cx="171.51" cy="380.29" r="2.45"/><circle cx="171.23" cy="380.23" r="2.45"/><circle cx="170.95" cy="380.17" r="2.45"/><circle cx="170.66" cy="380.1" r="2.45"/><circle cx="170.38" cy="380.04" r="2.45"/><circle cx="170.1" cy="379.97" r="2.45"/><circle cx="169.82" cy="379.9" r="2.45"/><circle cx="169.54" cy="379.83" r="2.45"/><circle cx="169.25" cy="379.77" r="2.45"/><circle cx="168.97" cy="379.7" r="2.45"/><circle cx="168.69" cy="379.63" r="2.45"/><circle cx="168.41" cy="379.56" r="2.45"/><circle cx="168.13" cy="379.48" r="2.45"/><circle cx="167.84" cy="379.41" r="2.45"/><circle cx="167.56" cy="379.34" r="2.45"/><circle cx="167.28" cy="379.26" r="2.45"/><circle cx="167" cy="379.19" r="2.45"/><circle cx="166.72" cy="379.11" r="2.45"/><circle cx="166.43" cy="379.03" r="2.45"/><circle cx="166.15" cy="378.95" r="2.45"/><circle cx="165.87" cy="378.88" r="2.45"/><circle cx="165.59" cy="378.8" r="2.45"/><circle cx="165.31" cy="378.71" r="2.45"/><circle cx="165.02" cy="378.63" r="2.45"/><circle cx="164.74" cy="378.55" r="2.45"/><circle cx="164.46" cy="378.46" r="2.45"/><circle cx="164.18" cy="378.38" r="2.45"/><circle cx="163.9" cy="378.29" r="2.45"/><circle cx="163.61" cy="378.2" r="2.45"/><circle cx="163.33" cy="378.11" r="2.45"/><circle cx="163.05" cy="378.02" r="2.45"/><circle cx="162.77" cy="377.93" r="2.45"/><circle cx="162.49" cy="377.84" r="2.45"/><circle cx="162.2" cy="377.74" r="2.45"/><circle cx="161.92" cy="377.65" r="2.45"/><circle cx="161.64" cy="377.55" r="2.45"/><circle cx="161.36" cy="377.45" r="2.45"/><circle cx="161.08" cy="377.35" r="2.45"/><circle cx="160.79" cy="377.25" r="2.45"/><circle cx="160.51" cy="377.15" r="2.45"/><circle cx="160.23" cy="377.05" r="2.45"/><circle cx="159.95" cy="376.94" r="2.45"/><circle cx="159.67" cy="376.83" r="2.45"/><circle cx="159.38" cy="376.73" r="2.45"/><circle cx="159.1" cy="376.62" r="2.45"/><circle cx="158.82" cy="376.5" r="2.45"/><circle cx="158.54" cy="376.39" r="2.45"/><circle cx="158.26" cy="376.28" r="2.45"/><circle cx="157.97" cy="376.16" r="2.45"/><circle cx="157.69" cy="376.04" r="2.45"/><circle cx="157.41" cy="375.92" r="2.45"/><circle cx="157.13" cy="375.8" r="2.45"/><circle cx="156.85" cy="375.67" r="2.45"/><circle cx="156.56" cy="375.55" r="2.45"/><circle cx="156.28" cy="375.42" r="2.45"/><circle cx="156" cy="375.29" r="2.45"/><circle cx="155.72" cy="375.16" r="2.45"/><circle cx="155.44" cy="375.02" r="2.45"/><circle cx="155.15" cy="374.89" r="2.45"/><circle cx="154.87" cy="374.75" r="2.45"/><circle cx="154.59" cy="374.61" r="2.45"/><circle cx="154.31" cy="374.46" r="2.45"/><circle cx="154.03" cy="374.32" r="2.45"/><circle cx="153.74" cy="374.17" r="2.45"/><circle cx="153.46" cy="374.02" r="2.45"/><circle cx="153.18" cy="373.86" r="2.45"/><circle cx="152.9" cy="373.71" r="2.45"/><circle cx="152.62" cy="373.55" r="2.45"/><circle cx="152.33" cy="373.39" r="2.45"/><circle cx="152.05" cy="373.22" r="2.45"/><circle cx="151.77" cy="373.06" r="2.45"/><circle cx="151.49" cy="372.89" r="2.45"/><circle cx="151.21" cy="372.71" r="2.45"/><circle cx="150.92" cy="372.54" r="2.45"/><circle cx="150.64" cy="372.36" r="2.45"/><circle cx="150.36" cy="372.17" r="2.45"/><circle cx="150.08" cy="371.99" r="2.45"/><circle cx="149.8" cy="371.8" r="2.45"/><circle cx="149.51" cy="371.6" r="2.45"/><circle cx="149.23" cy="371.41" r="2.45"/><circle cx="148.95" cy="371.2" r="2.45"/><circle cx="148.67" cy="371" r="2.45"/><circle cx="148.39" cy="370.79" r="2.45"/><circle cx="148.1" cy="370.58" r="2.45"/><circle cx="147.82" cy="370.36" r="2.45"/><circle cx="147.54" cy="370.14" r="2.45"/><circle cx="147.26" cy="369.91" r="2.45"/><circle cx="146.98" cy="369.68" r="2.45"/><circle cx="146.69" cy="369.44" r="2.45"/><circle cx="146.41" cy="369.2" r="2.45"/><circle cx="146.13" cy="368.96" r="2.45"/><circle cx="145.85" cy="368.7" r="2.45"/><circle cx="145.57" cy="368.45" r="2.45"/><circle cx="145.28" cy="368.19" r="2.45"/><circle cx="145" cy="367.92" r="2.45"/><circle cx="144.72" cy="367.64" r="2.45"/><circle cx="144.44" cy="367.36" r="2.45"/><circle cx="144.16" cy="367.08" r="2.45"/><circle cx="143.87" cy="366.78" r="2.45"/><circle cx="143.59" cy="366.49" r="2.45"/><circle cx="143.31" cy="366.18" r="2.45"/><circle cx="143.03" cy="365.87" r="2.45"/><circle cx="142.75" cy="365.54" r="2.45"/><circle cx="142.46" cy="365.22" r="2.45"/><circle cx="142.18" cy="364.88" r="2.45"/><circle cx="141.9" cy="364.53" r="2.45"/><circle cx="141.62" cy="364.18" r="2.45"/><circle cx="141.34" cy="363.82" r="2.45"/><circle cx="141.05" cy="363.45" r="2.45"/><circle cx="140.77" cy="363.07" r="2.45"/><circle cx="140.49" cy="362.68" r="2.45"/><circle cx="140.21" cy="362.28" r="2.45"/><circle cx="139.93" cy="361.87" r="2.45"/><circle cx="139.64" cy="361.45" r="2.45"/><circle cx="139.36" cy="361.02" r="2.45"/><circle cx="139.08" cy="360.57" r="2.45"/><circle cx="138.8" cy="360.12" r="2.45"/><circle cx="138.52" cy="359.65" r="2.45"/><circle cx="138.23" cy="359.17" r="2.45"/><circle cx="137.95" cy="358.67" r="2.45"/><circle cx="137.67" cy="358.16" r="2.45"/><circle cx="137.39" cy="357.64" r="2.45"/><circle cx="137.11" cy="357.1" r="2.45"/><circle cx="136.82" cy="356.55" r="2.45"/><circle cx="136.54" cy="355.98" r="2.45"/><circle cx="136.26" cy="355.39" r="2.45"/><circle cx="135.98" cy="354.79" r="2.45"/><circle cx="135.7" cy="354.17" r="2.45"/><circle cx="135.41" cy="353.53" r="2.45"/><circle cx="135.13" cy="352.87" r="2.45"/><circle cx="134.85" cy="352.19" r="2.45"/><circle cx="134.57" cy="351.49" r="2.45"/><circle cx="134.29" cy="350.77" r="2.45"/><circle cx="134" cy="350.02" r="2.45"/><circle cx="133.72" cy="349.26" r="2.45"/><circle cx="133.44" cy="348.46" r="2.45"/><circle cx="133.16" cy="347.65" r="2.45"/><circle cx="132.88" cy="346.81" r="2.45"/><circle cx="132.59" cy="345.94" r="2.45"/><circle cx="132.31" cy="345.04" r="2.45"/><circle cx="132.03" cy="344.12" r="2.45"/><circle cx="131.75" cy="343.17" r="2.45"/><circle cx="131.47" cy="342.18" r="2.45"/><circle cx="131.18" cy="341.17" r="2.45"/><circle cx="130.9" cy="340.13" r="2.45"/><circle cx="130.62" cy="339.06" r="2.45"/><circle cx="130.34" cy="337.95" r="2.45"/><circle cx="130.06" cy="336.82" r="2.45"/><circle cx="129.77" cy="335.65" r="2.45"/><circle cx="129.49" cy="334.45" r="2.45"/><circle cx="129.21" cy="333.23" r="2.45"/><circle cx="128.93" cy="331.97" r="2.45"/><circle cx="128.65" cy="330.69" r="2.45"/><circle cx="128.36" cy="329.39" r="2.45"/><circle cx="128.08" cy="328.06" r="2.45"/><circle cx="127.8" cy="326.72" r="2.45"/><circle cx="127.52" cy="325.37" r="2.45"/><circle cx="127.24" cy="324.02" r="2.45"/><circle cx="126.95" cy="322.67" r="2.45"/><circle cx="126.67" cy="321.34" r="2.45"/><circle cx="126.39" cy="320.04" r="2.45"/><circle cx="126.11" cy="318.79" r="2.45"/><circle cx="125.83" cy="317.6" r="2.45"/><circle cx="125.54" cy="316.49" r="2.45"/><circle cx="125.26" cy="315.49" r="2.45"/><circle cx="124.98" cy="314.62" r="2.45"/><circle cx="124.7" cy="313.93" r="2.45"/><circle cx="124.42" cy="313.45" r="2.45"/><circle cx="124.13" cy="313.2" r="2.45"/><circle cx="123.85" cy="313.25" r="2.45"/><circle cx="123.57" cy="313.63" r="2.45"/><circle cx="123.29" cy="314.39" r="2.45"/><circle cx="123.01" cy="315.58" r="2.45"/><circle cx="122.72" cy="317.23" r="2.45"/><circle cx="122.44" cy="319.39" r="2.45"/><circle cx="122.16" cy="322.07" r="2.45"/><circle cx="121.88" cy="325.29" r="2.45"/><circle cx="121.6" cy="329.05" r="2.45"/><circle cx="121.31" cy="333.32" r="2.45"/><circle cx="121.03" cy="338.07" r="2.45"/><circle cx="120.75" cy="343.23" r="2.45"/><circle cx="120.47" cy="348.74" r="2.45"/><circle cx="120.19" cy="354.5" r="2.45"/><circle cx="119.9" cy="360.41" r="2.45"/><circle cx="119.62" cy="366.38" r="2.45"/><circle cx="119.34" cy="372.3" r="2.45"/><circle cx="119.06" cy="378.08" r="2.45"/><circle cx="118.78" cy="383.64" r="2.45"/><circle cx="118.49" cy="388.92" r="2.45"/><circle cx="118.21" cy="393.87" r="2.45"/><circle cx="117.93" cy="398.45" r="2.45"/><circle cx="117.65" cy="402.64" r="2.45"/><circle cx="117.37" cy="406.44" r="2.45"/><circle cx="117.08" cy="409.85" r="2.45"/><circle cx="116.8" cy="412.87" r="2.45"/><circle cx="116.52" cy="415.54" r="2.45"/><circle cx="116.24" cy="417.87" r="2.45"/><circle cx="115.96" cy="419.88" r="2.45"/><circle cx="115.67" cy="421.61" r="2.45"/><circle cx="115.39" cy="423.08" r="2.45"/><circle cx="115.11" cy="424.31" r="2.45"/><circle cx="114.83" cy="425.33" r="2.45"/><circle cx="114.55" cy="426.17" r="2.45"/><circle cx="114.26" cy="426.84" r="2.45"/><circle cx="113.98" cy="427.36" r="2.45"/><circle cx="113.7" cy="427.76" r="2.45"/><circle cx="113.42" cy="428.04" r="2.45"/><circle cx="113.14" cy="428.23" r="2.45"/><circle cx="112.85" cy="428.33" r="2.45"/><circle cx="112.57" cy="428.36" r="2.45"/><circle cx="112.29" cy="428.32" r="2.45"/><circle cx="112.01" cy="428.23" r="2.45"/><circle cx="111.73" cy="428.1" r="2.45"/><circle cx="111.44" cy="427.92" r="2.45"/><circle cx="111.16" cy="427.71" r="2.45"/><circle cx="110.88" cy="427.47" r="2.45"/><circle cx="110.6" cy="427.2" r="2.45"/><circle cx="110.32" cy="426.92" r="2.45"/><circle cx="110.03" cy="426.62" r="2.45"/><circle cx="109.75" cy="426.3" r="2.45"/><circle cx="109.47" cy="425.98" r="2.45"/><circle cx="109.19" cy="425.64" r="2.45"/><circle cx="108.91" cy="425.3" r="2.45"/><circle cx="108.62" cy="424.96" r="2.45"/><circle cx="108.34" cy="424.61" r="2.45"/><circle cx="108.06" cy="424.26" r="2.45"/><circle cx="107.78" cy="423.9" r="2.45"/><circle cx="107.5" cy="423.55" r="2.45"/><circle cx="107.21" cy="423.2" r="2.45"/><circle cx="106.93" cy="422.85" r="2.45"/><circle cx="106.65" cy="422.5" r="2.45"/><circle cx="106.37" cy="422.16" r="2.45"/><circle cx="106.09" cy="421.81" r="2.45"/><circle cx="105.8" cy="421.47" r="2.45"/><circle cx="105.52" cy="421.14" r="2.45"/><circle cx="105.24" cy="420.81" r="2.45"/><circle cx="104.96" cy="420.48" r="2.45"/><circle cx="104.68" cy="420.16" r="2.45"/><circle cx="104.39" cy="419.84" r="2.45"/><circle cx="104.11" cy="419.53" r="2.45"/><circle cx="103.83" cy="419.22" r="2.45"/><circle cx="103.55" cy="418.92" r="2.45"/><circle cx="103.27" cy="418.62" r="2.45"/><circle cx="102.98" cy="418.32" r="2.45"/><circle cx="102.7" cy="418.04" r="2.45"/><circle cx="102.42" cy="417.75" r="2.45"/><circle cx="102.14" cy="417.47" r="2.45"/><circle cx="101.86" cy="417.2" r="2.45"/><circle cx="101.57" cy="416.93" r="2.45"/><circle cx="101.29" cy="416.66" r="2.45"/><circle cx="101.01" cy="416.4" r="2.45"/><circle cx="100.73" cy="416.14" r="2.45"/><circle cx="100.45" cy="415.89" r="2.45"/><circle cx="100.16" cy="415.65" r="2.45"/><circle cx="99.88" cy="415.4" r="2.45"/><circle cx="99.6" cy="415.16" r="2.45"/><circle cx="99.32" cy="414.93" r="2.45"/><circle cx="99.04" cy="414.7" r="2.45"/><circle cx="98.75" cy="414.47" r="2.45"/><circle cx="98.47" cy="414.25" r="2.45"/><circle cx="98.19" cy="414.03" r="2.45"/><circle cx="97.91" cy="413.82" r="2.45"/><circle cx="97.63" cy="413.61" r="2.45"/><circle cx="97.34" cy="413.4" r="2.45"/><circle cx="97.06" cy="413.2" r="2.45"/><circle cx="96.78" cy="412.99" r="2.45"/><circle cx="96.5" cy="412.8" r="2.45"/><circle cx="96.22" cy="412.6" r="2.45"/><circle cx="95.93" cy="412.41" r="2.45"/><circle cx="95.65" cy="412.23" r="2.45"/><circle cx="95.37" cy="412.04" r="2.45"/><circle cx="95.09" cy="411.86" r="2.45"/><circle cx="94.81" cy="411.69" r="2.45"/><circle cx="94.52" cy="411.51" r="2.45"/><circle cx="94.24" cy="411.34" r="2.45"/><circle cx="93.96" cy="411.17" r="2.45"/><circle cx="93.68" cy="411.01" r="2.45"/><circle cx="93.4" cy="410.84" r="2.45"/><circle cx="93.11" cy="410.68" r="2.45"/><circle cx="92.83" cy="410.52" r="2.45"/><circle cx="92.55" cy="410.37" r="2.45"/><circle cx="92.27" cy="410.22" r="2.45"/><circle cx="91.99" cy="410.06" r="2.45"/><circle cx="91.7" cy="409.92" r="2.45"/><circle cx="91.42" cy="409.77" r="2.45"/><circle cx="91.14" cy="409.63" r="2.45"/><circle cx="90.86" cy="409.49" r="2.45"/><circle cx="90.58" cy="409.35" r="2.45"/><circle cx="90.29" cy="409.21" r="2.45"/><circle cx="90.01" cy="409.08" r="2.45"/><circle cx="89.73" cy="408.94" r="2.45"/><circle cx="89.45" cy="408.81" r="2.45"/><circle cx="89.17" cy="408.68" r="2.45"/><circle cx="88.88" cy="408.56" r="2.45"/><circle cx="88.6" cy="408.43" r="2.45"/><circle cx="88.32" cy="408.31" r="2.45"/><circle cx="88.04" cy="408.19" r="2.45"/><circle cx="87.76" cy="408.07" r="2.45"/><circle cx="87.47" cy="407.95" r="2.45"/><circle cx="87.19" cy="407.83" r="2.45"/><circle cx="86.91" cy="407.72" r="2.45"/><circle cx="86.63" cy="407.61" r="2.45"/><circle cx="86.35" cy="407.5" r="2.45"/><circle cx="86.06" cy="407.39" r="2.45"/><circle cx="85.78" cy="407.28" r="2.45"/><circle cx="85.5" cy="407.17" r="2.45"/><circle cx="85.22" cy="407.07" r="2.45"/><circle cx="84.94" cy="406.96" r="2.45"/><circle cx="84.65" cy="406.86" r="2.45"/><circle cx="84.37" cy="406.76" r="2.45"/><circle cx="84.09" cy="406.66" r="2.45"/><circle cx="83.81" cy="406.56" r="2.45"/><circle cx="83.53" cy="406.47" r="2.45"/><circle cx="83.24" cy="406.37" r="2.45"/><circle cx="82.96" cy="406.28" r="2.45"/><circle cx="82.68" cy="406.18" r="2.45"/><circle cx="82.4" cy="406.09" r="2.45"/><circle cx="82.12" cy="406" r="2.45"/><circle cx="81.83" cy="405.91" r="2.45"/><circle cx="81.55" cy="405.83" r="2.45"/><circle cx="81.27" cy="405.74" r="2.45"/><circle cx="80.99" cy="405.65" r="2.45"/><circle cx="80.71" cy="405.57" r="2.45"/><circle cx="80.42" cy="405.48" r="2.45"/><circle cx="80.14" cy="405.4" r="2.45"/><circle cx="79.86" cy="405.32" r="2.45"/><circle cx="79.58" cy="405.24" r="2.45"/><circle cx="79.3" cy="405.16" r="2.45"/><circle cx="79.01" cy="405.08" r="2.45"/><circle cx="78.73" cy="405" r="2.45"/><circle cx="78.45" cy="404.93" r="2.45"/><circle cx="78.17" cy="404.85" r="2.45"/><circle cx="77.89" cy="404.78" r="2.45"/><circle cx="77.6" cy="404.7" r="2.45"/><circle cx="77.32" cy="404.63" r="2.45"/><circle cx="77.04" cy="404.56" r="2.45"/><circle cx="76.76" cy="404.49" r="2.45"/><circle cx="76.48" cy="404.42" r="2.45"/><circle cx="76.19" cy="404.35" r="2.45"/><circle cx="75.91" cy="404.28" r="2.45"/><circle cx="75.63" cy="404.21" r="2.45"/><circle cx="75.35" cy="404.14" r="2.45"/><circle cx="75.07" cy="404.08" r="2.45"/><circle cx="74.78" cy="404.01" r="2.45"/><circle cx="74.5" cy="403.95" r="2.45"/><circle cx="74.22" cy="403.88" r="2.45"/><circle cx="73.94" cy="403.82" r="2.45"/><circle cx="73.66" cy="403.76" r="2.45"/><circle cx="73.37" cy="403.69" r="2.45"/><circle cx="73.09" cy="403.63" r="2.45"/><circle cx="72.81" cy="403.57" r="2.45"/><circle cx="72.53" cy="403.51" r="2.45"/><circle cx="72.25" cy="403.45" r="2.45"/><circle cx="71.96" cy="403.39" r="2.45"/><circle cx="71.68" cy="403.34" r="2.45"/><circle cx="71.4" cy="403.28" r="2.45"/></g>
<g fill="#fff" stroke="#2f7a2f" stroke-width="1.5"><circle cx="199.8" cy="415" r="2.4"/></g>
<text x="208.6" y="418" font-family='"Liberation Sans", sans-serif' font-size="8.6" font-weight="normal" font-style="normal" fill="#3a3a3a" text-anchor="start" >Pt-111</text>
<g fill="#fff" stroke="#d03038" stroke-width="1.5"><circle cx="199.8" cy="425" r="2.4"/></g>
<text x="208.6" y="428" font-family='"Liberation Sans", sans-serif' font-size="8.6" font-weight="normal" font-style="normal" fill="#3a3a3a" text-anchor="start" >Pt-110</text>
<g fill="#fff" stroke="#2a32a8" stroke-width="1.5"><circle cx="199.8" cy="435" r="2.4"/></g>
<text x="208.6" y="438" font-family='"Liberation Sans", sans-serif' font-size="8.6" font-weight="normal" font-style="normal" fill="#3a3a3a" text-anchor="start" >Pt-001</text>
<rect x="320" y="295.2" width="197" height="158.6" fill="none" stroke="#1a1a1a" stroke-width="1.3"/>
<path d="M339.7 453.8v-3.3M339.7 295.2v3.3M379.1 453.8v-3.3M379.1 295.2v3.3M418.5 453.8v-3.3M418.5 295.2v3.3M457.9 453.8v-3.3M457.9 295.2v3.3M497.3 453.8v-3.3M497.3 295.2v3.3" stroke="#1a1a1a" stroke-width="1.1" fill="none"/>
<path d="M359.4 453.8v-2M359.4 295.2v2M398.8 453.8v-2M398.8 295.2v2M438.2 453.8v-2M438.2 295.2v2M477.6 453.8v-2M477.6 295.2v2" stroke="#1a1a1a" stroke-width="1.1" fill="none"/>
<path d="M320 334.85h3.3M517 334.85h-3.3M320 374.5h3.3M517 374.5h-3.3M320 414.15h3.3M517 414.15h-3.3" stroke="#1a1a1a" stroke-width="1.1" fill="none"/>
<path d="M320 315.02h2M517 315.02h-2M320 354.68h2M517 354.68h-2M320 394.32h2M517 394.32h-2M320 433.98h2M517 433.98h-2" stroke="#1a1a1a" stroke-width="1.1" fill="none"/>
<text x="316.2" y="299.13" font-family='"Liberation Sans", sans-serif' font-size="11" font-weight="normal" font-style="normal" fill="#2a2a2a" text-anchor="end" stroke="#2a2a2a" stroke-width="0.08">4</text>
<text x="316.2" y="338.78" font-family='"Liberation Sans", sans-serif' font-size="11" font-weight="normal" font-style="normal" fill="#2a2a2a" text-anchor="end" stroke="#2a2a2a" stroke-width="0.08">0</text>
<text x="316.2" y="378.43" font-family='"Liberation Sans", sans-serif' font-size="11" font-weight="normal" font-style="normal" fill="#2a2a2a" text-anchor="end" stroke="#2a2a2a" stroke-width="0.08">-4</text>
<text x="316.2" y="418.08" font-family='"Liberation Sans", sans-serif' font-size="11" font-weight="normal" font-style="normal" fill="#2a2a2a" text-anchor="end" stroke="#2a2a2a" stroke-width="0.08">-8</text>
<text x="316.2" y="457.73" font-family='"Liberation Sans", sans-serif' font-size="11" font-weight="normal" font-style="normal" fill="#2a2a2a" text-anchor="end" stroke="#2a2a2a" stroke-width="0.08">-12</text>
<text x="340.7" y="466.5" font-family='"Liberation Sans", sans-serif' font-size="10.8" font-weight="normal" font-style="normal" fill="#2a2a2a" text-anchor="middle" stroke="#2a2a2a" stroke-width="0.08">0</text>
<text x="380.1" y="466.5" font-family='"Liberation Sans", sans-serif' font-size="10.8" font-weight="normal" font-style="normal" fill="#2a2a2a" text-anchor="middle" stroke="#2a2a2a" stroke-width="0.08">40</text>
<text x="419.5" y="466.5" font-family='"Liberation Sans", sans-serif' font-size="10.8" font-weight="normal" font-style="normal" fill="#2a2a2a" text-anchor="middle" stroke="#2a2a2a" stroke-width="0.08">80</text>
<text x="458.9" y="466.5" font-family='"Liberation Sans", sans-serif' font-size="10.8" font-weight="normal" font-style="normal" fill="#2a2a2a" text-anchor="middle" stroke="#2a2a2a" stroke-width="0.08">120</text>
<text x="498.3" y="466.5" font-family='"Liberation Sans", sans-serif' font-size="10.8" font-weight="normal" font-style="normal" fill="#2a2a2a" text-anchor="middle" stroke="#2a2a2a" stroke-width="0.08">160</text>
<g fill="#fff" stroke="#1a761a" stroke-width="1.45"><circle cx="349.35" cy="351.11" r="2.45"/></g>
<g fill="#fff" stroke="#1a761a" stroke-width="1.45"><circle cx="350.04" cy="338.55" r="2.45"/><circle cx="350.44" cy="338.38" r="2.45"/><circle cx="350.83" cy="338.2" r="2.45"/><circle cx="351.22" cy="338.02" r="2.45"/><circle cx="351.62" cy="337.85" r="2.45"/><circle cx="352.01" cy="337.67" r="2.45"/><circle cx="352.41" cy="337.49" r="2.45"/><circle cx="352.8" cy="337.31" r="2.45"/><circle cx="353.19" cy="337.14" r="2.45"/><circle cx="353.59" cy="336.96" r="2.45"/><circle cx="353.98" cy="336.78" r="2.45"/><circle cx="354.38" cy="336.6" r="2.45"/><circle cx="354.77" cy="336.42" r="2.45"/><circle cx="355.16" cy="336.25" r="2.45"/><circle cx="355.56" cy="336.07" r="2.45"/><circle cx="355.95" cy="335.89" r="2.45"/><circle cx="356.35" cy="335.71" r="2.45"/><circle cx="356.74" cy="335.53" r="2.45"/><circle cx="357.13" cy="335.35" r="2.45"/><circle cx="357.53" cy="335.17" r="2.45"/><circle cx="357.92" cy="334.99" r="2.45"/><circle cx="358.32" cy="334.8" r="2.45"/><circle cx="358.71" cy="334.62" r="2.45"/><circle cx="359.1" cy="334.44" r="2.45"/><circle cx="359.5" cy="334.25" r="2.45"/><circle cx="359.89" cy="334.07" r="2.45"/><circle cx="360.29" cy="333.88" r="2.45"/><circle cx="360.68" cy="333.69" r="2.45"/><circle cx="361.07" cy="333.5" r="2.45"/><circle cx="361.47" cy="333.32" r="2.45"/><circle cx="361.86" cy="333.12" r="2.45"/><circle cx="362.26" cy="332.93" r="2.45"/><circle cx="362.65" cy="332.74" r="2.45"/><circle cx="363.04" cy="332.55" r="2.45"/><circle cx="363.44" cy="332.35" r="2.45"/><circle cx="363.83" cy="332.15" r="2.45"/><circle cx="364.23" cy="331.95" r="2.45"/><circle cx="364.62" cy="331.75" r="2.45"/><circle cx="365.01" cy="331.55" r="2.45"/><circle cx="365.41" cy="331.35" r="2.45"/><circle cx="365.8" cy="331.14" r="2.45"/><circle cx="366.2" cy="330.93" r="2.45"/><circle cx="366.59" cy="330.72" r="2.45"/><circle cx="366.98" cy="330.51" r="2.45"/><circle cx="367.38" cy="330.3" r="2.45"/><circle cx="367.77" cy="330.08" r="2.45"/><circle cx="368.17" cy="329.86" r="2.45"/><circle cx="368.56" cy="329.64" r="2.45"/><circle cx="368.95" cy="329.42" r="2.45"/><circle cx="369.35" cy="329.19" r="2.45"/><circle cx="369.74" cy="328.96" r="2.45"/><circle cx="370.14" cy="328.73" r="2.45"/><circle cx="370.53" cy="328.5" r="2.45"/><circle cx="370.92" cy="328.26" r="2.45"/><circle cx="371.32" cy="328.03" r="2.45"/><circle cx="371.71" cy="327.79" r="2.45"/><circle cx="372.11" cy="327.55" r="2.45"/><circle cx="372.5" cy="327.3" r="2.45"/><circle cx="372.89" cy="327.06" r="2.45"/><circle cx="373.29" cy="326.81" r="2.45"/><circle cx="373.68" cy="326.56" r="2.45"/><circle cx="374.08" cy="326.32" r="2.45"/><circle cx="374.47" cy="326.07" r="2.45"/><circle cx="374.86" cy="325.83" r="2.45"/><circle cx="375.26" cy="325.58" r="2.45"/><circle cx="375.65" cy="325.34" r="2.45"/><circle cx="376.05" cy="325.11" r="2.45"/><circle cx="376.44" cy="324.88" r="2.45"/><circle cx="376.83" cy="324.67" r="2.45"/><circle cx="377.23" cy="324.47" r="2.45"/><circle cx="377.62" cy="324.28" r="2.45"/><circle cx="378.02" cy="324.11" r="2.45"/><circle cx="378.41" cy="323.97" r="2.45"/><circle cx="378.8" cy="323.87" r="2.45"/><circle cx="379.2" cy="323.8" r="2.45"/><circle cx="379.59" cy="323.79" r="2.45"/><circle cx="379.99" cy="323.84" r="2.45"/><circle cx="380.38" cy="323.98" r="2.45"/><circle cx="380.77" cy="324.21" r="2.45"/><circle cx="381.17" cy="324.57" r="2.45"/><circle cx="381.56" cy="325.09" r="2.45"/><circle cx="381.96" cy="325.8" r="2.45"/><circle cx="382.35" cy="326.76" r="2.45"/><circle cx="382.74" cy="328.02" r="2.45"/><circle cx="383.14" cy="329.65" r="2.45"/><circle cx="383.53" cy="331.74" r="2.45"/><circle cx="383.93" cy="334.4" r="2.45"/><circle cx="384.32" cy="337.76" r="2.45"/><circle cx="384.71" cy="341.95" r="2.45"/><circle cx="385.11" cy="347.13" r="2.45"/><circle cx="385.5" cy="353.43" r="2.45"/><circle cx="385.9" cy="360.97" r="2.45"/><circle cx="386.29" cy="369.77" r="2.45"/><circle cx="386.68" cy="379.72" r="2.45"/><circle cx="387.08" cy="390.51" r="2.45"/><circle cx="387.47" cy="401.61" r="2.45"/><circle cx="387.87" cy="412.31" r="2.45"/><circle cx="388.26" cy="421.81" r="2.45"/><circle cx="388.65" cy="429.4" r="2.45"/><circle cx="389.05" cy="434.64" r="2.45"/><circle cx="389.44" cy="437.4" r="2.45"/><circle cx="389.84" cy="437.91" r="2.45"/><circle cx="390.23" cy="436.54" r="2.45"/><circle cx="390.62" cy="433.8" r="2.45"/><circle cx="391.02" cy="430.15" r="2.45"/><circle cx="391.41" cy="425.96" r="2.45"/><circle cx="391.81" cy="421.54" r="2.45"/><circle cx="392.2" cy="417.1" r="2.45"/><circle cx="392.59" cy="412.77" r="2.45"/><circle cx="392.99" cy="408.63" r="2.45"/><circle cx="393.38" cy="404.73" r="2.45"/><circle cx="393.78" cy="401.1" r="2.45"/><circle cx="394.17" cy="397.72" r="2.45"/><circle cx="394.56" cy="394.61" r="2.45"/><circle cx="394.96" cy="391.73" r="2.45"/><circle cx="395.35" cy="389.08" r="2.45"/><circle cx="395.75" cy="386.64" r="2.45"/><circle cx="396.14" cy="384.4" r="2.45"/><circle cx="396.53" cy="382.33" r="2.45"/><circle cx="396.93" cy="380.42" r="2.45"/><circle cx="397.32" cy="378.65" r="2.45"/><circle cx="397.72" cy="377.02" r="2.45"/><circle cx="398.11" cy="375.51" r="2.45"/><circle cx="398.5" cy="374.1" r="2.45"/><circle cx="398.9" cy="372.8" r="2.45"/><circle cx="399.29" cy="371.59" r="2.45"/><circle cx="399.69" cy="370.46" r="2.45"/><circle cx="400.08" cy="369.4" r="2.45"/><circle cx="400.47" cy="368.42" r="2.45"/><circle cx="400.87" cy="367.49" r="2.45"/><circle cx="401.26" cy="366.63" r="2.45"/><circle cx="401.66" cy="365.82" r="2.45"/><circle cx="402.05" cy="365.06" r="2.45"/><circle cx="402.44" cy="364.35" r="2.45"/><circle cx="402.84" cy="363.68" r="2.45"/><circle cx="403.23" cy="363.04" r="2.45"/><circle cx="403.63" cy="362.45" r="2.45"/><circle cx="404.02" cy="361.89" r="2.45"/><circle cx="404.41" cy="361.35" r="2.45"/><circle cx="404.81" cy="360.85" r="2.45"/><circle cx="405.2" cy="360.38" r="2.45"/><circle cx="405.6" cy="359.93" r="2.45"/><circle cx="405.99" cy="359.51" r="2.45"/><circle cx="406.38" cy="359.11" r="2.45"/><circle cx="406.78" cy="358.73" r="2.45"/><circle cx="407.17" cy="358.37" r="2.45"/><circle cx="407.57" cy="358.02" r="2.45"/><circle cx="407.96" cy="357.7" r="2.45"/><circle cx="408.35" cy="357.39" r="2.45"/><circle cx="408.75" cy="357.1" r="2.45"/><circle cx="409.14" cy="356.83" r="2.45"/><circle cx="409.54" cy="356.56" r="2.45"/><circle cx="409.93" cy="356.31" r="2.45"/><circle cx="410.32" cy="356.08" r="2.45"/><circle cx="410.72" cy="355.85" r="2.45"/><circle cx="411.11" cy="355.64" r="2.45"/><circle cx="411.51" cy="355.44" r="2.45"/><circle cx="411.9" cy="355.25" r="2.45"/><circle cx="412.29" cy="355.07" r="2.45"/><circle cx="412.69" cy="354.9" r="2.45"/><circle cx="413.08" cy="354.74" r="2.45"/><circle cx="413.48" cy="354.59" r="2.45"/><circle cx="413.87" cy="354.44" r="2.45"/><circle cx="414.26" cy="354.31" r="2.45"/><circle cx="414.66" cy="354.18" r="2.45"/><circle cx="415.05" cy="354.06" r="2.45"/><circle cx="415.45" cy="353.94" r="2.45"/><circle cx="415.84" cy="353.84" r="2.45"/><circle cx="416.23" cy="353.73" r="2.45"/><circle cx="416.63" cy="353.64" r="2.45"/><circle cx="417.02" cy="353.55" r="2.45"/><circle cx="417.42" cy="353.47" r="2.45"/><circle cx="417.81" cy="353.4" r="2.45"/><circle cx="418.2" cy="353.33" r="2.45"/><circle cx="418.6" cy="353.26" r="2.45"/><circle cx="418.99" cy="353.2" r="2.45"/><circle cx="419.39" cy="353.15" r="2.45"/><circle cx="419.78" cy="353.1" r="2.45"/><circle cx="420.17" cy="353.05" r="2.45"/><circle cx="420.57" cy="353.01" r="2.45"/><circle cx="420.96" cy="352.98" r="2.45"/><circle cx="421.36" cy="352.95" r="2.45"/><circle cx="421.75" cy="352.92" r="2.45"/><circle cx="422.14" cy="352.9" r="2.45"/><circle cx="422.54" cy="352.88" r="2.45"/><circle cx="422.93" cy="352.87" r="2.45"/><circle cx="423.33" cy="352.86" r="2.45"/><circle cx="423.72" cy="352.85" r="2.45"/><circle cx="424.11" cy="352.84" r="2.45"/><circle cx="424.51" cy="352.85" r="2.45"/><circle cx="424.9" cy="352.85" r="2.45"/><circle cx="425.3" cy="352.86" r="2.45"/><circle cx="425.69" cy="352.87" r="2.45"/><circle cx="426.08" cy="352.88" r="2.45"/><circle cx="426.48" cy="352.9" r="2.45"/><circle cx="426.87" cy="352.92" r="2.45"/><circle cx="427.27" cy="352.94" r="2.45"/><circle cx="427.66" cy="352.97" r="2.45"/><circle cx="428.05" cy="353" r="2.45"/></g>
<g fill="#fff" stroke="#ee1111" stroke-width="1.45"><circle cx="338.71" cy="336.34" r="2.45"/><circle cx="339.11" cy="336.34" r="2.45"/><circle cx="339.5" cy="336.34" r="2.45"/><circle cx="339.9" cy="336.34" r="2.45"/><circle cx="340.29" cy="336.34" r="2.45"/><circle cx="340.69" cy="336.34" r="2.45"/><circle cx="341.08" cy="336.34" r="2.45"/><circle cx="341.47" cy="336.34" r="2.45"/><circle cx="341.87" cy="336.34" r="2.45"/><circle cx="342.26" cy="336.34" r="2.45"/><circle cx="342.65" cy="336.34" r="2.45"/><circle cx="343.05" cy="336.34" r="2.45"/><circle cx="343.44" cy="336.34" r="2.45"/><circle cx="343.84" cy="336.34" r="2.45"/><circle cx="344.23" cy="336.34" r="2.45"/><circle cx="344.62" cy="336.34" r="2.45"/><circle cx="345.02" cy="336.34" r="2.45"/><circle cx="345.41" cy="336.34" r="2.45"/><circle cx="345.81" cy="336.34" r="2.45"/><circle cx="346.2" cy="336.34" r="2.45"/><circle cx="346.6" cy="336.34" r="2.45"/><circle cx="346.99" cy="336.34" r="2.45"/><circle cx="347.38" cy="336.34" r="2.45"/><circle cx="347.78" cy="336.34" r="2.45"/><circle cx="348.17" cy="336.34" r="2.45"/><circle cx="348.56" cy="336.34" r="2.45"/><circle cx="348.96" cy="336.34" r="2.45"/><circle cx="349.35" cy="336.34" r="2.45"/><circle cx="349.75" cy="336.34" r="2.45"/><circle cx="350.14" cy="336.34" r="2.45"/><circle cx="350.54" cy="336.34" r="2.45"/><circle cx="350.93" cy="336.34" r="2.45"/><circle cx="351.32" cy="336.34" r="2.45"/><circle cx="351.72" cy="336.34" r="2.45"/><circle cx="352.11" cy="336.34" r="2.45"/><circle cx="352.5" cy="336.34" r="2.45"/><circle cx="352.9" cy="336.34" r="2.45"/><circle cx="353.29" cy="336.34" r="2.45"/><circle cx="353.69" cy="336.34" r="2.45"/><circle cx="354.08" cy="336.34" r="2.45"/><circle cx="354.48" cy="336.34" r="2.45"/><circle cx="354.87" cy="336.34" r="2.45"/><circle cx="355.26" cy="336.34" r="2.45"/><circle cx="355.66" cy="336.34" r="2.45"/><circle cx="356.05" cy="336.34" r="2.45"/><circle cx="356.44" cy="336.34" r="2.45"/><circle cx="356.84" cy="336.34" r="2.45"/><circle cx="357.23" cy="336.34" r="2.45"/><circle cx="357.63" cy="336.34" r="2.45"/><circle cx="358.02" cy="336.34" r="2.45"/><circle cx="358.42" cy="336.34" r="2.45"/><circle cx="358.81" cy="336.34" r="2.45"/><circle cx="359.2" cy="336.34" r="2.45"/><circle cx="359.6" cy="336.34" r="2.45"/><circle cx="359.99" cy="336.34" r="2.45"/><circle cx="360.38" cy="336.34" r="2.45"/><circle cx="360.78" cy="336.34" r="2.45"/><circle cx="361.17" cy="336.34" r="2.45"/><circle cx="361.57" cy="336.35" r="2.45"/><circle cx="361.96" cy="336.35" r="2.45"/><circle cx="362.36" cy="336.36" r="2.45"/><circle cx="362.75" cy="336.36" r="2.45"/><circle cx="363.14" cy="336.37" r="2.45"/><circle cx="363.54" cy="336.37" r="2.45"/><circle cx="363.93" cy="336.38" r="2.45"/><circle cx="364.32" cy="336.39" r="2.45"/><circle cx="364.72" cy="336.4" r="2.45"/><circle cx="365.11" cy="336.4" r="2.45"/><circle cx="365.51" cy="336.41" r="2.45"/><circle cx="365.9" cy="336.42" r="2.45"/><circle cx="366.3" cy="336.43" r="2.45"/><circle cx="366.69" cy="336.44" r="2.45"/><circle cx="367.08" cy="336.45" r="2.45"/><circle cx="367.48" cy="336.46" r="2.45"/><circle cx="367.87" cy="336.47" r="2.45"/><circle cx="368.26" cy="336.48" r="2.45"/><circle cx="368.66" cy="336.49" r="2.45"/><circle cx="369.05" cy="336.51" r="2.45"/><circle cx="369.45" cy="336.52" r="2.45"/><circle cx="369.84" cy="336.53" r="2.45"/><circle cx="370.24" cy="336.54" r="2.45"/><circle cx="370.63" cy="336.56" r="2.45"/><circle cx="371.02" cy="336.57" r="2.45"/><circle cx="371.42" cy="336.59" r="2.45"/><circle cx="371.81" cy="336.61" r="2.45"/><circle cx="372.2" cy="336.64" r="2.45"/><circle cx="372.6" cy="336.66" r="2.45"/><circle cx="372.99" cy="336.69" r="2.45"/><circle cx="373.39" cy="336.72" r="2.45"/><circle cx="373.78" cy="336.75" r="2.45"/><circle cx="374.18" cy="336.78" r="2.45"/><circle cx="374.57" cy="336.82" r="2.45"/><circle cx="374.96" cy="336.85" r="2.45"/><circle cx="375.36" cy="336.88" r="2.45"/><circle cx="375.75" cy="336.92" r="2.45"/><circle cx="376.14" cy="336.96" r="2.45"/><circle cx="376.54" cy="336.99" r="2.45"/><circle cx="376.93" cy="337.03" r="2.45"/><circle cx="377.33" cy="337.07" r="2.45"/><circle cx="377.72" cy="337.1" r="2.45"/><circle cx="378.12" cy="337.14" r="2.45"/><circle cx="378.51" cy="337.18" r="2.45"/><circle cx="378.9" cy="337.21" r="2.45"/><circle cx="379.3" cy="337.25" r="2.45"/><circle cx="379.69" cy="337.28" r="2.45"/><circle cx="380.08" cy="337.32" r="2.45"/><circle cx="380.48" cy="337.35" r="2.45"/><circle cx="380.87" cy="337.39" r="2.45"/><circle cx="381.27" cy="337.42" r="2.45"/><circle cx="381.66" cy="337.46" r="2.45"/><circle cx="382.06" cy="337.5" r="2.45"/><circle cx="382.45" cy="337.53" r="2.45"/><circle cx="382.84" cy="337.57" r="2.45"/><circle cx="383.24" cy="337.61" r="2.45"/><circle cx="383.63" cy="337.65" r="2.45"/><circle cx="384.02" cy="337.69" r="2.45"/><circle cx="384.42" cy="337.73" r="2.45"/><circle cx="384.81" cy="337.77" r="2.45"/><circle cx="385.21" cy="337.81" r="2.45"/><circle cx="385.6" cy="337.85" r="2.45"/><circle cx="386" cy="337.9" r="2.45"/><circle cx="386.39" cy="337.94" r="2.45"/><circle cx="386.78" cy="337.99" r="2.45"/><circle cx="387.18" cy="338.03" r="2.45"/><circle cx="387.57" cy="338.08" r="2.45"/><circle cx="387.97" cy="338.13" r="2.45"/><circle cx="388.36" cy="338.18" r="2.45"/><circle cx="388.75" cy="338.24" r="2.45"/><circle cx="389.15" cy="338.29" r="2.45"/><circle cx="389.54" cy="338.35" r="2.45"/><circle cx="389.94" cy="338.41" r="2.45"/><circle cx="390.33" cy="338.47" r="2.45"/><circle cx="390.72" cy="338.54" r="2.45"/><circle cx="391.12" cy="338.61" r="2.45"/><circle cx="391.51" cy="338.69" r="2.45"/><circle cx="391.9" cy="338.77" r="2.45"/><circle cx="392.3" cy="338.85" r="2.45"/><circle cx="392.69" cy="338.93" r="2.45"/><circle cx="393.09" cy="339.02" r="2.45"/><circle cx="393.48" cy="339.11" r="2.45"/><circle cx="393.88" cy="339.2" r="2.45"/><circle cx="394.27" cy="339.29" r="2.45"/><circle cx="394.66" cy="339.38" r="2.45"/><circle cx="395.06" cy="339.47" r="2.45"/><circle cx="395.45" cy="339.56" r="2.45"/><circle cx="395.85" cy="339.65" r="2.45"/><circle cx="396.24" cy="339.74" r="2.45"/><circle cx="396.63" cy="339.83" r="2.45"/><circle cx="397.03" cy="339.92" r="2.45"/><circle cx="397.42" cy="340.01" r="2.45"/><circle cx="397.81" cy="340.1" r="2.45"/><circle cx="398.21" cy="340.18" r="2.45"/><circle cx="398.6" cy="340.26" r="2.45"/><circle cx="399" cy="340.34" r="2.45"/><circle cx="399.39" cy="340.42" r="2.45"/><circle cx="399.78" cy="340.5" r="2.45"/><circle cx="400.18" cy="340.59" r="2.45"/><circle cx="400.57" cy="340.67" r="2.45"/><circle cx="400.97" cy="340.76" r="2.45"/><circle cx="401.36" cy="340.85" r="2.45"/><circle cx="401.75" cy="340.93" r="2.45"/><circle cx="402.15" cy="341.02" r="2.45"/><circle cx="402.54" cy="341.1" r="2.45"/><circle cx="402.94" cy="341.19" r="2.45"/><circle cx="403.33" cy="341.28" r="2.45"/><circle cx="403.73" cy="341.36" r="2.45"/><circle cx="404.12" cy="341.44" r="2.45"/><circle cx="404.51" cy="341.52" r="2.45"/><circle cx="404.91" cy="341.6" r="2.45"/><circle cx="405.3" cy="341.68" r="2.45"/><circle cx="405.69" cy="341.75" r="2.45"/><circle cx="406.09" cy="341.82" r="2.45"/><circle cx="406.48" cy="341.89" r="2.45"/><circle cx="406.88" cy="341.95" r="2.45"/><circle cx="407.27" cy="342.01" r="2.45"/><circle cx="407.67" cy="342.07" r="2.45"/><circle cx="408.06" cy="342.12" r="2.45"/><circle cx="408.45" cy="342.16" r="2.45"/><circle cx="408.85" cy="342.21" r="2.45"/><circle cx="409.24" cy="342.25" r="2.45"/><circle cx="409.63" cy="342.29" r="2.45"/><circle cx="410.03" cy="342.33" r="2.45"/><circle cx="410.42" cy="342.38" r="2.45"/><circle cx="410.82" cy="342.42" r="2.45"/><circle cx="411.21" cy="342.46" r="2.45"/><circle cx="411.61" cy="342.5" r="2.45"/><circle cx="412" cy="342.53" r="2.45"/><circle cx="412.39" cy="342.57" r="2.45"/><circle cx="412.79" cy="342.6" r="2.45"/><circle cx="413.18" cy="342.64" r="2.45"/><circle cx="413.57" cy="342.67" r="2.45"/><circle cx="413.97" cy="342.69" r="2.45"/><circle cx="414.36" cy="342.72" r="2.45"/><circle cx="414.76" cy="342.74" r="2.45"/><circle cx="415.15" cy="342.75" r="2.45"/><circle cx="415.55" cy="342.77" r="2.45"/><circle cx="415.94" cy="342.77" r="2.45"/><circle cx="416.33" cy="342.78" r="2.45"/><circle cx="416.73" cy="342.78" r="2.45"/><circle cx="417.12" cy="342.78" r="2.45"/><circle cx="417.51" cy="342.77" r="2.45"/><circle cx="417.91" cy="342.76" r="2.45"/><circle cx="418.3" cy="342.75" r="2.45"/><circle cx="418.7" cy="342.73" r="2.45"/><circle cx="419.09" cy="342.72" r="2.45"/><circle cx="419.49" cy="342.7" r="2.45"/><circle cx="419.88" cy="342.68" r="2.45"/><circle cx="420.27" cy="342.66" r="2.45"/><circle cx="420.67" cy="342.63" r="2.45"/><circle cx="421.06" cy="342.61" r="2.45"/><circle cx="421.45" cy="342.58" r="2.45"/><circle cx="421.85" cy="342.56" r="2.45"/><circle cx="422.24" cy="342.53" r="2.45"/><circle cx="422.64" cy="342.5" r="2.45"/><circle cx="423.03" cy="342.48" r="2.45"/><circle cx="423.43" cy="342.45" r="2.45"/><circle cx="423.82" cy="342.42" r="2.45"/><circle cx="424.21" cy="342.4" r="2.45"/><circle cx="424.61" cy="342.37" r="2.45"/><circle cx="425" cy="342.34" r="2.45"/><circle cx="425.39" cy="342.32" r="2.45"/><circle cx="425.79" cy="342.29" r="2.45"/><circle cx="426.18" cy="342.26" r="2.45"/><circle cx="426.58" cy="342.22" r="2.45"/><circle cx="426.97" cy="342.19" r="2.45"/><circle cx="427.37" cy="342.15" r="2.45"/><circle cx="427.76" cy="342.12" r="2.45"/><circle cx="428.15" cy="342.08" r="2.45"/><circle cx="428.55" cy="342.05" r="2.45"/><circle cx="428.94" cy="342.01" r="2.45"/><circle cx="429.33" cy="341.97" r="2.45"/><circle cx="429.73" cy="341.93" r="2.45"/><circle cx="430.12" cy="341.89" r="2.45"/><circle cx="430.52" cy="341.85" r="2.45"/><circle cx="430.91" cy="341.81" r="2.45"/><circle cx="431.31" cy="341.77" r="2.45"/><circle cx="431.7" cy="341.73" r="2.45"/><circle cx="432.09" cy="341.68" r="2.45"/><circle cx="432.49" cy="341.64" r="2.45"/><circle cx="432.88" cy="341.6" r="2.45"/><circle cx="433.27" cy="341.56" r="2.45"/><circle cx="433.67" cy="341.52" r="2.45"/><circle cx="434.06" cy="341.48" r="2.45"/><circle cx="434.46" cy="341.44" r="2.45"/><circle cx="434.85" cy="341.4" r="2.45"/><circle cx="435.25" cy="341.36" r="2.45"/><circle cx="435.64" cy="341.32" r="2.45"/><circle cx="436.03" cy="341.28" r="2.45"/><circle cx="436.43" cy="341.25" r="2.45"/><circle cx="436.82" cy="341.21" r="2.45"/><circle cx="437.22" cy="341.18" r="2.45"/><circle cx="437.61" cy="341.14" r="2.45"/><circle cx="438" cy="341.11" r="2.45"/><circle cx="438.4" cy="341.08" r="2.45"/><circle cx="438.79" cy="341.05" r="2.45"/><circle cx="439.19" cy="341.02" r="2.45"/><circle cx="439.58" cy="340.99" r="2.45"/><circle cx="439.97" cy="340.96" r="2.45"/><circle cx="440.37" cy="340.92" r="2.45"/><circle cx="440.76" cy="340.89" r="2.45"/><circle cx="441.15" cy="340.86" r="2.45"/><circle cx="441.55" cy="340.83" r="2.45"/><circle cx="441.94" cy="340.8" r="2.45"/><circle cx="442.34" cy="340.77" r="2.45"/><circle cx="442.73" cy="340.74" r="2.45"/><circle cx="443.12" cy="340.72" r="2.45"/><circle cx="443.52" cy="340.69" r="2.45"/><circle cx="443.91" cy="340.66" r="2.45"/><circle cx="444.31" cy="340.63" r="2.45"/><circle cx="444.7" cy="340.6" r="2.45"/><circle cx="445.1" cy="340.57" r="2.45"/><circle cx="445.49" cy="340.54" r="2.45"/><circle cx="445.88" cy="340.52" r="2.45"/><circle cx="446.28" cy="340.49" r="2.45"/><circle cx="446.67" cy="340.46" r="2.45"/><circle cx="447.06" cy="340.43" r="2.45"/><circle cx="447.46" cy="340.41" r="2.45"/><circle cx="447.85" cy="340.38" r="2.45"/><circle cx="448.25" cy="340.35" r="2.45"/><circle cx="448.64" cy="340.33" r="2.45"/><circle cx="449.03" cy="340.3" r="2.45"/><circle cx="449.43" cy="340.28" r="2.45"/><circle cx="449.82" cy="340.25" r="2.45"/><circle cx="450.22" cy="340.23" r="2.45"/><circle cx="450.61" cy="340.2" r="2.45"/><circle cx="451" cy="340.18" r="2.45"/><circle cx="451.4" cy="340.15" r="2.45"/><circle cx="451.79" cy="340.13" r="2.45"/><circle cx="452.19" cy="340.11" r="2.45"/><circle cx="452.58" cy="340.08" r="2.45"/><circle cx="452.98" cy="340.06" r="2.45"/><circle cx="453.37" cy="340.04" r="2.45"/><circle cx="453.76" cy="340.02" r="2.45"/><circle cx="454.16" cy="339.99" r="2.45"/><circle cx="454.55" cy="339.97" r="2.45"/><circle cx="454.94" cy="339.95" r="2.45"/><circle cx="455.34" cy="339.93" r="2.45"/><circle cx="455.73" cy="339.91" r="2.45"/><circle cx="456.13" cy="339.89" r="2.45"/><circle cx="456.52" cy="339.86" r="2.45"/><circle cx="456.91" cy="339.84" r="2.45"/><circle cx="457.31" cy="339.82" r="2.45"/><circle cx="457.7" cy="339.8" r="2.45"/><circle cx="458.1" cy="339.78" r="2.45"/><circle cx="458.49" cy="339.76" r="2.45"/><circle cx="458.88" cy="339.74" r="2.45"/><circle cx="459.28" cy="339.72" r="2.45"/><circle cx="459.67" cy="339.7" r="2.45"/><circle cx="460.07" cy="339.68" r="2.45"/><circle cx="460.46" cy="339.66" r="2.45"/><circle cx="460.86" cy="339.64" r="2.45"/><circle cx="461.25" cy="339.62" r="2.45"/><circle cx="461.64" cy="339.6" r="2.45"/><circle cx="462.04" cy="339.58" r="2.45"/><circle cx="462.43" cy="339.57" r="2.45"/><circle cx="462.82" cy="339.55" r="2.45"/><circle cx="463.22" cy="339.53" r="2.45"/><circle cx="463.61" cy="339.51" r="2.45"/><circle cx="464.01" cy="339.49" r="2.45"/><circle cx="464.4" cy="339.48" r="2.45"/><circle cx="464.79" cy="339.46" r="2.45"/><circle cx="465.19" cy="339.44" r="2.45"/><circle cx="465.58" cy="339.43" r="2.45"/><circle cx="465.98" cy="339.41" r="2.45"/><circle cx="466.37" cy="339.4" r="2.45"/><circle cx="466.76" cy="339.38" r="2.45"/><circle cx="467.16" cy="339.37" r="2.45"/><circle cx="467.55" cy="339.35" r="2.45"/><circle cx="467.95" cy="339.34" r="2.45"/><circle cx="468.34" cy="339.32" r="2.45"/><circle cx="468.74" cy="339.31" r="2.45"/><circle cx="469.13" cy="339.3" r="2.45"/><circle cx="469.52" cy="339.28" r="2.45"/><circle cx="469.92" cy="339.27" r="2.45"/><circle cx="470.31" cy="339.26" r="2.45"/><circle cx="470.71" cy="339.25" r="2.45"/><circle cx="471.1" cy="339.23" r="2.45"/><circle cx="471.49" cy="339.22" r="2.45"/><circle cx="471.89" cy="339.21" r="2.45"/><circle cx="472.28" cy="339.19" r="2.45"/><circle cx="472.68" cy="339.18" r="2.45"/><circle cx="473.07" cy="339.17" r="2.45"/><circle cx="473.46" cy="339.16" r="2.45"/><circle cx="473.86" cy="339.15" r="2.45"/><circle cx="474.25" cy="339.13" r="2.45"/><circle cx="474.64" cy="339.12" r="2.45"/><circle cx="475.04" cy="339.11" r="2.45"/><circle cx="475.43" cy="339.1" r="2.45"/><circle cx="475.83" cy="339.09" r="2.45"/><circle cx="476.22" cy="339.07" r="2.45"/><circle cx="476.62" cy="339.06" r="2.45"/><circle cx="477.01" cy="339.05" r="2.45"/><circle cx="477.4" cy="339.04" r="2.45"/><circle cx="477.8" cy="339.03" r="2.45"/><circle cx="478.19" cy="339.02" r="2.45"/><circle cx="478.59" cy="339.01" r="2.45"/><circle cx="478.98" cy="339" r="2.45"/><circle cx="479.37" cy="338.99" r="2.45"/><circle cx="479.77" cy="338.98" r="2.45"/><circle cx="480.16" cy="338.97" r="2.45"/><circle cx="480.56" cy="338.96" r="2.45"/><circle cx="480.95" cy="338.95" r="2.45"/><circle cx="481.34" cy="338.94" r="2.45"/><circle cx="481.74" cy="338.93" r="2.45"/><circle cx="482.13" cy="338.92" r="2.45"/><circle cx="482.52" cy="338.91" r="2.45"/><circle cx="482.92" cy="338.91" r="2.45"/><circle cx="483.31" cy="338.9" r="2.45"/><circle cx="483.71" cy="338.89" r="2.45"/><circle cx="484.1" cy="338.88" r="2.45"/><circle cx="484.5" cy="338.87" r="2.45"/><circle cx="484.89" cy="338.87" r="2.45"/><circle cx="485.28" cy="338.86" r="2.45"/><circle cx="485.68" cy="338.85" r="2.45"/><circle cx="486.07" cy="338.84" r="2.45"/><circle cx="486.47" cy="338.84" r="2.45"/><circle cx="486.86" cy="338.83" r="2.45"/><circle cx="487.25" cy="338.83" r="2.45"/><circle cx="487.65" cy="338.82" r="2.45"/><circle cx="488.04" cy="338.81" r="2.45"/></g>
<g fill="#fff" stroke="#1010e8" stroke-width="1.45"><circle cx="359.4" cy="320.45" r="2.45"/><circle cx="359.79" cy="320.36" r="2.45"/><circle cx="360.19" cy="320.26" r="2.45"/><circle cx="360.58" cy="320.17" r="2.45"/><circle cx="360.98" cy="320.07" r="2.45"/><circle cx="361.37" cy="319.97" r="2.45"/><circle cx="361.76" cy="319.86" r="2.45"/><circle cx="362.16" cy="319.76" r="2.45"/><circle cx="362.55" cy="319.65" r="2.45"/><circle cx="362.95" cy="319.54" r="2.45"/><circle cx="363.34" cy="319.43" r="2.45"/><circle cx="363.73" cy="319.32" r="2.45"/><circle cx="364.13" cy="319.2" r="2.45"/><circle cx="364.52" cy="319.08" r="2.45"/><circle cx="364.92" cy="318.96" r="2.45"/><circle cx="365.31" cy="318.83" r="2.45"/><circle cx="365.7" cy="318.71" r="2.45"/><circle cx="366.1" cy="318.58" r="2.45"/><circle cx="366.49" cy="318.45" r="2.45"/><circle cx="366.89" cy="318.31" r="2.45"/><circle cx="367.28" cy="318.17" r="2.45"/><circle cx="367.67" cy="318.03" r="2.45"/><circle cx="368.07" cy="317.89" r="2.45"/><circle cx="368.46" cy="317.74" r="2.45"/><circle cx="368.86" cy="317.59" r="2.45"/><circle cx="369.25" cy="317.43" r="2.45"/><circle cx="369.64" cy="317.28" r="2.45"/><circle cx="370.04" cy="317.12" r="2.45"/><circle cx="370.43" cy="316.96" r="2.45"/><circle cx="370.83" cy="316.79" r="2.45"/><circle cx="371.22" cy="316.63" r="2.45"/><circle cx="371.61" cy="316.46" r="2.45"/><circle cx="372.01" cy="316.29" r="2.45"/><circle cx="372.4" cy="316.11" r="2.45"/><circle cx="372.8" cy="315.94" r="2.45"/><circle cx="373.19" cy="315.76" r="2.45"/><circle cx="373.58" cy="315.59" r="2.45"/><circle cx="373.98" cy="315.41" r="2.45"/><circle cx="374.37" cy="315.24" r="2.45"/><circle cx="374.77" cy="315.07" r="2.45"/><circle cx="375.16" cy="314.9" r="2.45"/><circle cx="375.55" cy="314.75" r="2.45"/><circle cx="375.95" cy="314.6" r="2.45"/><circle cx="376.34" cy="314.46" r="2.45"/><circle cx="376.74" cy="314.34" r="2.45"/><circle cx="377.13" cy="314.23" r="2.45"/><circle cx="377.52" cy="314.15" r="2.45"/><circle cx="377.92" cy="314.1" r="2.45"/><circle cx="378.31" cy="314.1" r="2.45"/><circle cx="378.71" cy="314.13" r="2.45"/><circle cx="379.1" cy="314.24" r="2.45"/><circle cx="379.49" cy="314.41" r="2.45"/><circle cx="379.89" cy="314.68" r="2.45"/><circle cx="380.28" cy="315.07" r="2.45"/><circle cx="380.68" cy="315.61" r="2.45"/><circle cx="381.07" cy="316.33" r="2.45"/><circle cx="381.46" cy="317.27" r="2.45"/><circle cx="381.86" cy="318.5" r="2.45"/><circle cx="382.25" cy="320.07" r="2.45"/><circle cx="382.65" cy="322.07" r="2.45"/><circle cx="383.04" cy="324.59" r="2.45"/><circle cx="383.43" cy="327.74" r="2.45"/><circle cx="383.83" cy="331.64" r="2.45"/><circle cx="384.22" cy="336.4" r="2.45"/><circle cx="384.62" cy="342.13" r="2.45"/><circle cx="385.01" cy="348.88" r="2.45"/><circle cx="385.4" cy="356.6" r="2.45"/><circle cx="385.8" cy="365.14" r="2.45"/><circle cx="386.19" cy="374.15" r="2.45"/><circle cx="386.59" cy="383.14" r="2.45"/><circle cx="386.98" cy="391.48" r="2.45"/><circle cx="387.37" cy="398.56" r="2.45"/><circle cx="387.77" cy="403.92" r="2.45"/><circle cx="388.16" cy="407.31" r="2.45"/><circle cx="388.56" cy="408.77" r="2.45"/><circle cx="388.95" cy="408.54" r="2.45"/><circle cx="389.34" cy="406.97" r="2.45"/><circle cx="389.74" cy="404.44" r="2.45"/><circle cx="390.13" cy="401.3" r="2.45"/><circle cx="390.53" cy="397.82" r="2.45"/><circle cx="390.92" cy="394.22" r="2.45"/><circle cx="391.31" cy="390.63" r="2.45"/><circle cx="391.71" cy="387.15" r="2.45"/><circle cx="392.1" cy="383.84" r="2.45"/><circle cx="392.5" cy="380.72" r="2.45"/><circle cx="392.89" cy="377.81" r="2.45"/><circle cx="393.28" cy="375.11" r="2.45"/><circle cx="393.68" cy="372.6" r="2.45"/><circle cx="394.07" cy="370.29" r="2.45"/><circle cx="394.47" cy="368.15" r="2.45"/><circle cx="394.86" cy="366.17" r="2.45"/><circle cx="395.25" cy="364.35" r="2.45"/><circle cx="395.65" cy="362.66" r="2.45"/><circle cx="396.04" cy="361.1" r="2.45"/><circle cx="396.44" cy="359.65" r="2.45"/><circle cx="396.83" cy="358.3" r="2.45"/><circle cx="397.22" cy="357.05" r="2.45"/><circle cx="397.62" cy="355.88" r="2.45"/><circle cx="398.01" cy="354.8" r="2.45"/><circle cx="398.41" cy="353.78" r="2.45"/><circle cx="398.8" cy="352.83" r="2.45"/><circle cx="399.19" cy="351.94" r="2.45"/><circle cx="399.59" cy="351.1" r="2.45"/><circle cx="399.98" cy="350.32" r="2.45"/><circle cx="400.38" cy="349.57" r="2.45"/><circle cx="400.77" cy="348.88" r="2.45"/><circle cx="401.16" cy="348.22" r="2.45"/><circle cx="401.56" cy="347.59" r="2.45"/><circle cx="401.95" cy="347" r="2.45"/><circle cx="402.35" cy="346.45" r="2.45"/><circle cx="402.74" cy="345.91" r="2.45"/><circle cx="403.13" cy="345.41" r="2.45"/><circle cx="403.53" cy="344.93" r="2.45"/><circle cx="403.92" cy="344.47" r="2.45"/><circle cx="404.32" cy="344.04" r="2.45"/><circle cx="404.71" cy="343.62" r="2.45"/><circle cx="405.1" cy="343.23" r="2.45"/><circle cx="405.5" cy="342.85" r="2.45"/><circle cx="405.89" cy="342.49" r="2.45"/><circle cx="406.29" cy="342.14" r="2.45"/><circle cx="406.68" cy="341.81" r="2.45"/><circle cx="407.07" cy="341.49" r="2.45"/><circle cx="407.47" cy="341.18" r="2.45"/><circle cx="407.86" cy="340.89" r="2.45"/><circle cx="408.26" cy="340.6" r="2.45"/><circle cx="408.65" cy="340.33" r="2.45"/><circle cx="409.04" cy="340.07" r="2.45"/><circle cx="409.44" cy="339.82" r="2.45"/><circle cx="409.83" cy="339.57" r="2.45"/><circle cx="410.23" cy="339.34" r="2.45"/><circle cx="410.62" cy="339.11" r="2.45"/><circle cx="411.01" cy="338.89" r="2.45"/><circle cx="411.41" cy="338.68" r="2.45"/><circle cx="411.8" cy="338.47" r="2.45"/><circle cx="412.2" cy="338.28" r="2.45"/><circle cx="412.59" cy="338.08" r="2.45"/><circle cx="412.98" cy="337.9" r="2.45"/><circle cx="413.38" cy="337.72" r="2.45"/><circle cx="413.77" cy="337.54" r="2.45"/><circle cx="414.17" cy="337.37" r="2.45"/><circle cx="414.56" cy="337.21" r="2.45"/><circle cx="414.95" cy="337.05" r="2.45"/><circle cx="415.35" cy="336.89" r="2.45"/><circle cx="415.74" cy="336.74" r="2.45"/><circle cx="416.14" cy="336.6" r="2.45"/><circle cx="416.53" cy="336.45" r="2.45"/><circle cx="416.92" cy="336.31" r="2.45"/><circle cx="417.32" cy="336.18" r="2.45"/><circle cx="417.71" cy="336.05" r="2.45"/><circle cx="418.11" cy="335.92" r="2.45"/><circle cx="418.5" cy="335.79" r="2.45"/></g>
<g fill="#fff" stroke="#2f7a2f" stroke-width="1.5"><circle cx="474.6" cy="417" r="2.4"/></g>
<text x="483.1" y="419.8" font-family='"Liberation Sans", sans-serif' font-size="7.8" font-weight="normal" font-style="normal" fill="#3a3a3a" text-anchor="start" >Pt-111</text>
<g fill="#fff" stroke="#d03038" stroke-width="1.5"><circle cx="474.6" cy="426" r="2.4"/></g>
<text x="483.1" y="428.8" font-family='"Liberation Sans", sans-serif' font-size="7.8" font-weight="normal" font-style="normal" fill="#3a3a3a" text-anchor="start" >Pt-110</text>
<g fill="#fff" stroke="#2a32a8" stroke-width="1.5"><circle cx="474.6" cy="435" r="2.4"/></g>
<text x="483.1" y="437.8" font-family='"Liberation Sans", sans-serif' font-size="7.8" font-weight="normal" font-style="normal" fill="#3a3a3a" text-anchor="start" >Pt-001</text>
<text x="11.8" y="11.8" font-family='"Liberation Sans", sans-serif' font-size="14.8" font-weight="bold" font-style="normal" fill="#000" text-anchor="start" stroke="#000" stroke-width="0.45" textLength="17.8" lengthAdjust="spacingAndGlyphs">(a)</text>
<text x="271.8" y="11.8" font-family='"Liberation Sans", sans-serif' font-size="14.8" font-weight="bold" font-style="normal" fill="#000" text-anchor="start" stroke="#000" stroke-width="0.45" textLength="18" lengthAdjust="spacingAndGlyphs">(b)</text>
<text x="10.1" y="295.3" font-family='"Liberation Sans", sans-serif' font-size="14.8" font-weight="bold" font-style="normal" fill="#000" text-anchor="start" stroke="#000" stroke-width="0.45" textLength="15.6" lengthAdjust="spacingAndGlyphs">(c)</text>
<text x="270.9" y="295.4" font-family='"Liberation Sans", sans-serif' font-size="14.8" font-weight="bold" font-style="normal" fill="#000" text-anchor="start" stroke="#000" stroke-width="0.45" textLength="18" lengthAdjust="spacingAndGlyphs">(d)</text>
<text x="130.8" y="19.8" font-family='"Liberation Sans", sans-serif' font-size="14.2" font-weight="bold" font-style="normal" fill="#d8182a" text-anchor="start" textLength="46.1" lengthAdjust="spacingAndGlyphs">STFMR</text>
<text x="388.2" y="19.5" font-family='"Liberation Sans", sans-serif' font-size="14.2" font-weight="bold" font-style="normal" fill="#1f6db5" text-anchor="start" textLength="61.7" lengthAdjust="spacingAndGlyphs">O-STFMR</text>
<text transform="translate(13.3 131) rotate(-90)" font-family='"Liberation Serif", serif' font-size="17.2" fill="#333" stroke="#333" stroke-width="0.25" text-anchor="middle" textLength="96" lengthAdjust="spacing"><tspan font-style="italic">δ</tspan>(<tspan font-style="italic">μ</tspan><tspan font-size="12.5" dy="3.3">0</tspan><tspan dy="-3.3">Δ</tspan><tspan font-style="italic">H</tspan>)(<tspan font-style="italic">mT</tspan>)</text>
<text transform="translate(287.7 138.4) rotate(-90)" font-family='"Liberation Serif", serif' font-size="17.2" fill="#333" stroke="#333" stroke-width="0.25" text-anchor="middle" textLength="97" lengthAdjust="spacing"><tspan font-style="italic">δ</tspan>(<tspan font-style="italic">μ</tspan><tspan font-size="12.5" dy="3.3">0</tspan><tspan dy="-3.3">Δ</tspan><tspan font-style="italic">H</tspan>)(<tspan font-style="italic">mT</tspan>)</text>
<text x="151.1" y="282.7" font-family='"Liberation Serif", serif' font-size="17.2" fill="#333" stroke="#333" stroke-width="0.25" text-anchor="middle" textLength="61.4" lengthAdjust="spacing"><tspan font-style="italic">I</tspan><tspan font-style="italic" font-size="12.5" dy="3.3">DC</tspan><tspan dy="-3.3"> (</tspan><tspan font-style="italic">mA</tspan>)</text>
<text x="421" y="282.7" font-family='"Liberation Serif", serif' font-size="17.2" fill="#333" stroke="#333" stroke-width="0.25" text-anchor="middle" textLength="60.5" lengthAdjust="spacing"><tspan font-style="italic">I</tspan><tspan font-style="italic" font-size="12.5" dy="3.3">DC</tspan><tspan dy="-3.3"> (</tspan><tspan font-style="italic">mA</tspan>)</text>
<text x="156.6" y="482.5" font-family='"Liberation Serif", serif' font-size="17.2" fill="#333" stroke="#333" stroke-width="0.25" text-anchor="middle" textLength="87.8" lengthAdjust="spacing"><tspan font-style="italic">μ</tspan><tspan font-size="12.5" dy="2.8">0</tspan><tspan dy="-2.8" font-style="italic">H</tspan><tspan font-style="italic" font-size="12.5" dy="2.8">ext</tspan><tspan dy="-2.8"> (</tspan><tspan font-style="italic">mT</tspan>)</text>
<text x="419.9" y="482.5" font-family='"Liberation Serif", serif' font-size="17.2" fill="#333" stroke="#333" stroke-width="0.25" text-anchor="middle" textLength="87.3" lengthAdjust="spacing"><tspan font-style="italic">μ</tspan><tspan font-size="12.5" dy="2.8">0</tspan><tspan dy="-2.8" font-style="italic">H</tspan><tspan font-style="italic" font-size="12.5" dy="2.8">ext</tspan><tspan dy="-2.8"> (</tspan><tspan font-style="italic">mT</tspan>)</text>
<text transform="translate(21.6 362.5) rotate(-90)" font-family='"Liberation Serif", serif' font-size="17.2" fill="#333" stroke="#333" stroke-width="0.25" text-anchor="middle" textLength="71.5" lengthAdjust="spacing"><tspan font-style="italic">V</tspan><tspan font-style="italic" font-size="12.5" dy="3.3">mix</tspan><tspan dy="-3.3"> (</tspan><tspan font-style="italic">mV</tspan>)</text>
<text transform="translate(298 368.2) rotate(-90)" font-family='"Liberation Serif", serif' font-size="17.2" fill="#333" stroke="#333" stroke-width="0.25" text-anchor="middle" textLength="62.5" lengthAdjust="spacing"><tspan font-style="italic">m</tspan><tspan font-style="italic" font-size="12.5" dy="3.3">z</tspan><tspan dy="-3.3"> (</tspan><tspan font-style="italic">mV</tspan>)</text>
</svg></body></html>
